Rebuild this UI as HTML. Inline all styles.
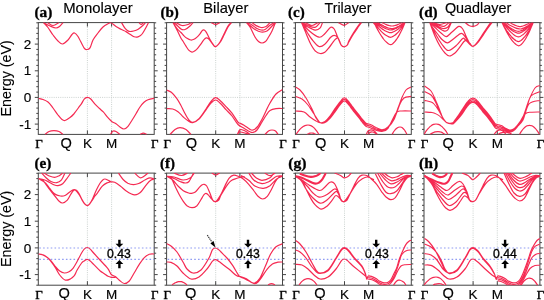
<!DOCTYPE html>
<html><head><meta charset="utf-8"><style>
html,body{margin:0;padding:0;background:#fff;}
svg{display:block;}
.t{font-family:"Liberation Sans",sans-serif;font-size:15px;fill:#000;stroke:#000;stroke-width:0.15px;}
.l{font-family:"Liberation Serif",serif;font-weight:bold;font-size:14.5px;fill:#000;stroke:#000;stroke-width:0.3px;}
.ax{font-family:"Liberation Sans",sans-serif;font-size:14.3px;fill:#000;stroke:#000;stroke-width:0.12px;}
.tk{font-family:"Liberation Sans",sans-serif;font-size:13.5px;fill:#000;stroke:#000;stroke-width:0.15px;}
.g{font-family:"Liberation Serif",serif;font-size:12.9px;fill:#000;stroke:#000;stroke-width:0.4px;}
.q{font-family:"Liberation Sans",sans-serif;font-size:14.6px;fill:#000;stroke:#000;stroke-width:0.15px;}
</style></head><body>
<svg width="544" height="300" viewBox="0 0 544 300">

<text class="t" x="63.2" y="13.1" textLength="69.6" lengthAdjust="spacingAndGlyphs">Monolayer</text>
<text class="t" x="203.3" y="13.1" textLength="45.0" lengthAdjust="spacingAndGlyphs">Bilayer</text>
<text class="t" x="324.6" y="13.1" textLength="46.8" lengthAdjust="spacingAndGlyphs">Trilayer</text>
<text class="t" x="444.9" y="13.1" textLength="66.4" lengthAdjust="spacingAndGlyphs">Quadlayer</text>
<text class="l" x="34.4" y="17.2" textLength="17.9" lengthAdjust="spacingAndGlyphs">(a)</text>
<text class="l" x="160.4" y="17.2" textLength="18.5" lengthAdjust="spacingAndGlyphs">(b)</text>
<text class="l" x="288.1" y="17.2" textLength="16.7" lengthAdjust="spacingAndGlyphs">(c)</text>
<text class="l" x="419.1" y="17.2" textLength="18.6" lengthAdjust="spacingAndGlyphs">(d)</text>
<text class="l" x="34.4" y="167.6" textLength="17.0" lengthAdjust="spacingAndGlyphs">(e)</text>
<text class="l" x="160.1" y="167.6" textLength="15.0" lengthAdjust="spacingAndGlyphs">(f)</text>
<text class="l" x="288.3" y="167.6" textLength="18.3" lengthAdjust="spacingAndGlyphs">(g)</text>
<text class="l" x="419.0" y="167.6" textLength="19.1" lengthAdjust="spacingAndGlyphs">(h)</text>
<path d="M87.4 22.6V134.4M111.6 22.6V134.4M38.3 97.4H154.2" stroke="#c5cdc9" stroke-width="0.9" stroke-dasharray="1 1.2" fill="none"/>
<path d="M36.3 129.4H38.3M154.2 129.4H156.2M34.8 124.1H38.3M154.2 124.1H157.7M36.3 118.7H38.3M154.2 118.7H156.2M36.3 113.4H38.3M154.2 113.4H156.2M36.3 108.1H38.3M154.2 108.1H156.2M36.3 102.7H38.3M154.2 102.7H156.2M34.8 97.4H38.3M154.2 97.4H157.7M36.3 92.1H38.3M154.2 92.1H156.2M36.3 86.7H38.3M154.2 86.7H156.2M36.3 81.4H38.3M154.2 81.4H156.2M36.3 76.1H38.3M154.2 76.1H156.2M34.8 70.8H38.3M154.2 70.8H157.7M36.3 65.4H38.3M154.2 65.4H156.2M36.3 60.1H38.3M154.2 60.1H156.2M36.3 54.8H38.3M154.2 54.8H156.2M36.3 49.4H38.3M154.2 49.4H156.2M34.8 44.1H38.3M154.2 44.1H157.7M36.3 38.8H38.3M154.2 38.8H156.2M36.3 33.4H38.3M154.2 33.4H156.2M36.3 28.1H38.3M154.2 28.1H156.2M36.3 22.8H38.3M154.2 22.8H156.2M87.4 22.6v4M87.4 134.4v-4M111.6 22.6v4M111.6 134.4v-4" stroke="#454545" stroke-width="1" fill="none"/>
<rect x="38.3" y="22.6" width="115.9" height="111.80000000000001" stroke="#454545" stroke-width="1" fill="none"/>
<text class="g" x="38.9" y="147.8" text-anchor="middle">Γ</text>
<text class="q" x="66.1" y="148.1" text-anchor="middle">Q</text>
<text class="tk" x="87.4" y="147.8" text-anchor="middle">K</text>
<text class="tk" x="111.6" y="147.8" text-anchor="middle">M</text>
<text class="g" x="154.7" y="147.8" text-anchor="middle">Γ</text>
<path d="M215.7 22.6V134.4M239.9 22.6V134.4M166.6 97.4H282.5" stroke="#c5cdc9" stroke-width="0.9" stroke-dasharray="1 1.2" fill="none"/>
<path d="M164.6 129.4H166.6M282.5 129.4H284.5M163.1 124.1H166.6M282.5 124.1H286.0M164.6 118.7H166.6M282.5 118.7H284.5M164.6 113.4H166.6M282.5 113.4H284.5M164.6 108.1H166.6M282.5 108.1H284.5M164.6 102.7H166.6M282.5 102.7H284.5M163.1 97.4H166.6M282.5 97.4H286.0M164.6 92.1H166.6M282.5 92.1H284.5M164.6 86.7H166.6M282.5 86.7H284.5M164.6 81.4H166.6M282.5 81.4H284.5M164.6 76.1H166.6M282.5 76.1H284.5M163.1 70.8H166.6M282.5 70.8H286.0M164.6 65.4H166.6M282.5 65.4H284.5M164.6 60.1H166.6M282.5 60.1H284.5M164.6 54.8H166.6M282.5 54.8H284.5M164.6 49.4H166.6M282.5 49.4H284.5M163.1 44.1H166.6M282.5 44.1H286.0M164.6 38.8H166.6M282.5 38.8H284.5M164.6 33.4H166.6M282.5 33.4H284.5M164.6 28.1H166.6M282.5 28.1H284.5M164.6 22.8H166.6M282.5 22.8H284.5M215.7 22.6v4M215.7 134.4v-4M239.9 22.6v4M239.9 134.4v-4" stroke="#454545" stroke-width="1" fill="none"/>
<rect x="166.6" y="22.6" width="115.9" height="111.80000000000001" stroke="#454545" stroke-width="1" fill="none"/>
<text class="g" x="167.2" y="147.8" text-anchor="middle">Γ</text>
<text class="q" x="191.4" y="148.1" text-anchor="middle">Q</text>
<text class="tk" x="215.7" y="147.8" text-anchor="middle">K</text>
<text class="tk" x="239.9" y="147.8" text-anchor="middle">M</text>
<text class="g" x="283.0" y="147.8" text-anchor="middle">Γ</text>
<path d="M344.5 22.6V134.4M368.7 22.6V134.4M295.4 97.4H411.29999999999995" stroke="#c5cdc9" stroke-width="0.9" stroke-dasharray="1 1.2" fill="none"/>
<path d="M293.4 129.4H295.4M411.29999999999995 129.4H413.3M291.9 124.1H295.4M411.29999999999995 124.1H414.8M293.4 118.7H295.4M411.29999999999995 118.7H413.3M293.4 113.4H295.4M411.29999999999995 113.4H413.3M293.4 108.1H295.4M411.29999999999995 108.1H413.3M293.4 102.7H295.4M411.29999999999995 102.7H413.3M291.9 97.4H295.4M411.29999999999995 97.4H414.8M293.4 92.1H295.4M411.29999999999995 92.1H413.3M293.4 86.7H295.4M411.29999999999995 86.7H413.3M293.4 81.4H295.4M411.29999999999995 81.4H413.3M293.4 76.1H295.4M411.29999999999995 76.1H413.3M291.9 70.8H295.4M411.29999999999995 70.8H414.8M293.4 65.4H295.4M411.29999999999995 65.4H413.3M293.4 60.1H295.4M411.29999999999995 60.1H413.3M293.4 54.8H295.4M411.29999999999995 54.8H413.3M293.4 49.4H295.4M411.29999999999995 49.4H413.3M291.9 44.1H295.4M411.29999999999995 44.1H414.8M293.4 38.8H295.4M411.29999999999995 38.8H413.3M293.4 33.4H295.4M411.29999999999995 33.4H413.3M293.4 28.1H295.4M411.29999999999995 28.1H413.3M293.4 22.8H295.4M411.29999999999995 22.8H413.3M344.5 22.6v4M344.5 134.4v-4M368.7 22.6v4M368.7 134.4v-4" stroke="#454545" stroke-width="1" fill="none"/>
<rect x="295.4" y="22.6" width="115.9" height="111.80000000000001" stroke="#454545" stroke-width="1" fill="none"/>
<text class="g" x="296.0" y="147.8" text-anchor="middle">Γ</text>
<text class="q" x="320.7" y="148.1" text-anchor="middle">Q</text>
<text class="tk" x="344.5" y="147.8" text-anchor="middle">K</text>
<text class="tk" x="368.7" y="147.8" text-anchor="middle">M</text>
<text class="g" x="411.8" y="147.8" text-anchor="middle">Γ</text>
<path d="M473.1 22.6V134.4M497.3 22.6V134.4M424.0 97.4H539.9" stroke="#c5cdc9" stroke-width="0.9" stroke-dasharray="1 1.2" fill="none"/>
<path d="M422.0 129.4H424.0M539.9 129.4H541.9M420.5 124.1H424.0M539.9 124.1H543.4M422.0 118.7H424.0M539.9 118.7H541.9M422.0 113.4H424.0M539.9 113.4H541.9M422.0 108.1H424.0M539.9 108.1H541.9M422.0 102.7H424.0M539.9 102.7H541.9M420.5 97.4H424.0M539.9 97.4H543.4M422.0 92.1H424.0M539.9 92.1H541.9M422.0 86.7H424.0M539.9 86.7H541.9M422.0 81.4H424.0M539.9 81.4H541.9M422.0 76.1H424.0M539.9 76.1H541.9M420.5 70.8H424.0M539.9 70.8H543.4M422.0 65.4H424.0M539.9 65.4H541.9M422.0 60.1H424.0M539.9 60.1H541.9M422.0 54.8H424.0M539.9 54.8H541.9M422.0 49.4H424.0M539.9 49.4H541.9M420.5 44.1H424.0M539.9 44.1H543.4M422.0 38.8H424.0M539.9 38.8H541.9M422.0 33.4H424.0M539.9 33.4H541.9M422.0 28.1H424.0M539.9 28.1H541.9M422.0 22.8H424.0M539.9 22.8H541.9M473.1 22.6v4M473.1 134.4v-4M497.3 22.6v4M497.3 134.4v-4" stroke="#454545" stroke-width="1" fill="none"/>
<rect x="424.0" y="22.6" width="115.9" height="111.80000000000001" stroke="#454545" stroke-width="1" fill="none"/>
<text class="g" x="424.6" y="147.8" text-anchor="middle">Γ</text>
<text class="q" x="448.3" y="148.1" text-anchor="middle">Q</text>
<text class="tk" x="473.1" y="147.8" text-anchor="middle">K</text>
<text class="tk" x="497.3" y="147.8" text-anchor="middle">M</text>
<text class="g" x="540.4" y="147.8" text-anchor="middle">Γ</text>
<path d="M87.4 173.1V285.2M111.6 173.1V285.2" stroke="#c5cdc9" stroke-width="0.9" stroke-dasharray="1 1.2" fill="none"/>
<path d="M36.3 285.2H38.3M154.2 285.2H156.2M36.3 279.9H38.3M154.2 279.9H156.2M34.8 274.6H38.3M154.2 274.6H157.7M36.3 269.2H38.3M154.2 269.2H156.2M36.3 263.9H38.3M154.2 263.9H156.2M36.3 258.6H38.3M154.2 258.6H156.2M36.3 253.2H38.3M154.2 253.2H156.2M34.8 247.9H38.3M154.2 247.9H157.7M36.3 242.6H38.3M154.2 242.6H156.2M36.3 237.2H38.3M154.2 237.2H156.2M36.3 231.9H38.3M154.2 231.9H156.2M36.3 226.6H38.3M154.2 226.6H156.2M34.8 221.2H38.3M154.2 221.2H157.7M36.3 215.9H38.3M154.2 215.9H156.2M36.3 210.6H38.3M154.2 210.6H156.2M36.3 205.3H38.3M154.2 205.3H156.2M36.3 199.9H38.3M154.2 199.9H156.2M34.8 194.6H38.3M154.2 194.6H157.7M36.3 189.3H38.3M154.2 189.3H156.2M36.3 183.9H38.3M154.2 183.9H156.2M36.3 178.6H38.3M154.2 178.6H156.2M36.3 173.3H38.3M154.2 173.3H156.2M87.4 173.1v4M87.4 285.2v-4M111.6 173.1v4M111.6 285.2v-4" stroke="#454545" stroke-width="1" fill="none"/>
<rect x="38.3" y="173.1" width="115.9" height="112.1" stroke="#454545" stroke-width="1" fill="none"/>
<text class="g" x="38.9" y="299.3" text-anchor="middle">Γ</text>
<text class="q" x="64.3" y="298.3" text-anchor="middle">Q</text>
<text class="tk" x="87.4" y="299.3" text-anchor="middle">K</text>
<text class="tk" x="111.6" y="299.3" text-anchor="middle">M</text>
<text class="g" x="154.7" y="299.3" text-anchor="middle">Γ</text>
<path d="M215.7 173.1V285.2M239.9 173.1V285.2" stroke="#c5cdc9" stroke-width="0.9" stroke-dasharray="1 1.2" fill="none"/>
<path d="M164.6 285.2H166.6M282.5 285.2H284.5M164.6 279.9H166.6M282.5 279.9H284.5M163.1 274.6H166.6M282.5 274.6H286.0M164.6 269.2H166.6M282.5 269.2H284.5M164.6 263.9H166.6M282.5 263.9H284.5M164.6 258.6H166.6M282.5 258.6H284.5M164.6 253.2H166.6M282.5 253.2H284.5M163.1 247.9H166.6M282.5 247.9H286.0M164.6 242.6H166.6M282.5 242.6H284.5M164.6 237.2H166.6M282.5 237.2H284.5M164.6 231.9H166.6M282.5 231.9H284.5M164.6 226.6H166.6M282.5 226.6H284.5M163.1 221.2H166.6M282.5 221.2H286.0M164.6 215.9H166.6M282.5 215.9H284.5M164.6 210.6H166.6M282.5 210.6H284.5M164.6 205.3H166.6M282.5 205.3H284.5M164.6 199.9H166.6M282.5 199.9H284.5M163.1 194.6H166.6M282.5 194.6H286.0M164.6 189.3H166.6M282.5 189.3H284.5M164.6 183.9H166.6M282.5 183.9H284.5M164.6 178.6H166.6M282.5 178.6H284.5M164.6 173.3H166.6M282.5 173.3H284.5M215.7 173.1v4M215.7 285.2v-4M239.9 173.1v4M239.9 285.2v-4" stroke="#454545" stroke-width="1" fill="none"/>
<rect x="166.6" y="173.1" width="115.9" height="112.1" stroke="#454545" stroke-width="1" fill="none"/>
<text class="g" x="167.2" y="299.3" text-anchor="middle">Γ</text>
<text class="q" x="190.8" y="298.3" text-anchor="middle">Q</text>
<text class="tk" x="215.7" y="299.3" text-anchor="middle">K</text>
<text class="tk" x="239.9" y="299.3" text-anchor="middle">M</text>
<text class="g" x="283.0" y="299.3" text-anchor="middle">Γ</text>
<path d="M344.5 173.1V285.2M368.7 173.1V285.2" stroke="#c5cdc9" stroke-width="0.9" stroke-dasharray="1 1.2" fill="none"/>
<path d="M293.4 285.2H295.4M411.29999999999995 285.2H413.3M293.4 279.9H295.4M411.29999999999995 279.9H413.3M291.9 274.6H295.4M411.29999999999995 274.6H414.8M293.4 269.2H295.4M411.29999999999995 269.2H413.3M293.4 263.9H295.4M411.29999999999995 263.9H413.3M293.4 258.6H295.4M411.29999999999995 258.6H413.3M293.4 253.2H295.4M411.29999999999995 253.2H413.3M291.9 247.9H295.4M411.29999999999995 247.9H414.8M293.4 242.6H295.4M411.29999999999995 242.6H413.3M293.4 237.2H295.4M411.29999999999995 237.2H413.3M293.4 231.9H295.4M411.29999999999995 231.9H413.3M293.4 226.6H295.4M411.29999999999995 226.6H413.3M291.9 221.2H295.4M411.29999999999995 221.2H414.8M293.4 215.9H295.4M411.29999999999995 215.9H413.3M293.4 210.6H295.4M411.29999999999995 210.6H413.3M293.4 205.3H295.4M411.29999999999995 205.3H413.3M293.4 199.9H295.4M411.29999999999995 199.9H413.3M291.9 194.6H295.4M411.29999999999995 194.6H414.8M293.4 189.3H295.4M411.29999999999995 189.3H413.3M293.4 183.9H295.4M411.29999999999995 183.9H413.3M293.4 178.6H295.4M411.29999999999995 178.6H413.3M293.4 173.3H295.4M411.29999999999995 173.3H413.3M344.5 173.1v4M344.5 285.2v-4M368.7 173.1v4M368.7 285.2v-4" stroke="#454545" stroke-width="1" fill="none"/>
<rect x="295.4" y="173.1" width="115.9" height="112.1" stroke="#454545" stroke-width="1" fill="none"/>
<text class="g" x="296.0" y="299.3" text-anchor="middle">Γ</text>
<text class="q" x="320" y="298.3" text-anchor="middle">Q</text>
<text class="tk" x="344.5" y="299.3" text-anchor="middle">K</text>
<text class="tk" x="368.7" y="299.3" text-anchor="middle">M</text>
<text class="g" x="411.8" y="299.3" text-anchor="middle">Γ</text>
<path d="M473.1 173.1V285.2M497.3 173.1V285.2" stroke="#c5cdc9" stroke-width="0.9" stroke-dasharray="1 1.2" fill="none"/>
<path d="M422.0 285.2H424.0M539.9 285.2H541.9M422.0 279.9H424.0M539.9 279.9H541.9M420.5 274.6H424.0M539.9 274.6H543.4M422.0 269.2H424.0M539.9 269.2H541.9M422.0 263.9H424.0M539.9 263.9H541.9M422.0 258.6H424.0M539.9 258.6H541.9M422.0 253.2H424.0M539.9 253.2H541.9M420.5 247.9H424.0M539.9 247.9H543.4M422.0 242.6H424.0M539.9 242.6H541.9M422.0 237.2H424.0M539.9 237.2H541.9M422.0 231.9H424.0M539.9 231.9H541.9M422.0 226.6H424.0M539.9 226.6H541.9M420.5 221.2H424.0M539.9 221.2H543.4M422.0 215.9H424.0M539.9 215.9H541.9M422.0 210.6H424.0M539.9 210.6H541.9M422.0 205.3H424.0M539.9 205.3H541.9M422.0 199.9H424.0M539.9 199.9H541.9M420.5 194.6H424.0M539.9 194.6H543.4M422.0 189.3H424.0M539.9 189.3H541.9M422.0 183.9H424.0M539.9 183.9H541.9M422.0 178.6H424.0M539.9 178.6H541.9M422.0 173.3H424.0M539.9 173.3H541.9M473.1 173.1v4M473.1 285.2v-4M497.3 173.1v4M497.3 285.2v-4" stroke="#454545" stroke-width="1" fill="none"/>
<rect x="424.0" y="173.1" width="115.9" height="112.1" stroke="#454545" stroke-width="1" fill="none"/>
<text class="g" x="424.6" y="299.3" text-anchor="middle">Γ</text>
<text class="q" x="448.3" y="298.3" text-anchor="middle">Q</text>
<text class="tk" x="473.1" y="299.3" text-anchor="middle">K</text>
<text class="tk" x="497.3" y="299.3" text-anchor="middle">M</text>
<text class="g" x="540.4" y="299.3" text-anchor="middle">Γ</text>
<text class="tk" x="31.2" y="48.7" text-anchor="end">2</text>
<text class="tk" x="31.2" y="75.3" text-anchor="end">1</text>
<text class="tk" x="31.2" y="102.0" text-anchor="end">0</text>
<text class="tk" x="31.2" y="128.7" text-anchor="end">-1</text>
<text class="ax" transform="translate(11 78.3) rotate(-90)" text-anchor="middle">Energy (eV)</text>
<text class="tk" x="31.2" y="199.2" text-anchor="end">2</text>
<text class="tk" x="31.2" y="225.8" text-anchor="end">1</text>
<text class="tk" x="31.2" y="252.5" text-anchor="end">0</text>
<text class="tk" x="31.2" y="279.2" text-anchor="end">-1</text>
<text class="ax" transform="translate(11 228.8) rotate(-90)" text-anchor="middle">Energy (eV)</text>
<defs>
<clipPath id="ca"><rect x="38.3" y="22.6" width="115.9" height="111.80000000000001"/></clipPath>
<clipPath id="cb"><rect x="166.6" y="22.6" width="115.9" height="111.80000000000001"/></clipPath>
<clipPath id="cc"><rect x="295.4" y="22.6" width="115.9" height="111.80000000000001"/></clipPath>
<clipPath id="cd"><rect x="424.0" y="22.6" width="115.9" height="111.80000000000001"/></clipPath>
<clipPath id="ce"><rect x="38.3" y="173.1" width="115.9" height="112.1"/></clipPath>
<clipPath id="cf"><rect x="166.6" y="173.1" width="115.9" height="112.1"/></clipPath>
<clipPath id="cg"><rect x="295.4" y="173.1" width="115.9" height="112.1"/></clipPath>
<clipPath id="ch"><rect x="424.0" y="173.1" width="115.9" height="112.1"/></clipPath>
</defs>
<path d="M39.3 248H154.2M39.3 259.4H154.2" stroke="#909cf2" stroke-width="1.2" stroke-dasharray="1.6 2.2" fill="none"/>
<path d="M167.6 248H282.5M167.6 259.4H282.5" stroke="#909cf2" stroke-width="1.2" stroke-dasharray="1.6 2.2" fill="none"/>
<path d="M296.4 248H411.3M296.4 259.4H411.3" stroke="#909cf2" stroke-width="1.2" stroke-dasharray="1.6 2.2" fill="none"/>
<path d="M425.0 248H539.9M425.0 259.4H539.9" stroke="#909cf2" stroke-width="1.2" stroke-dasharray="1.6 2.2" fill="none"/>
<path clip-path="url(#ca)" d="M43.5 22.5C44.2 23.3 46.4 25.4 48.0 27.5C49.6 29.6 51.3 32.8 53.0 35.0C54.7 37.2 56.4 39.5 58.0 41.0C59.6 42.5 60.8 44.2 62.5 44.0C64.2 43.8 66.4 41.6 68.0 40.0C69.6 38.4 70.9 35.7 72.0 34.5C73.1 33.3 73.5 32.7 74.5 33.0C75.5 33.3 76.4 34.0 78.0 36.5C79.6 39.0 82.5 45.7 84.0 47.9C85.5 50.1 86.0 49.5 87.0 49.5C88.0 49.5 89.0 49.5 90.0 47.9C91.0 46.3 91.7 42.5 93.0 40.0C94.3 37.5 96.3 35.2 98.0 33.0C99.7 30.8 101.3 28.5 103.0 27.0C104.7 25.5 106.7 24.5 108.0 23.8C109.3 23.1 109.7 22.4 111.0 22.8C112.3 23.2 114.3 25.4 116.0 26.5C117.7 27.6 119.3 28.4 121.0 29.3C122.7 30.2 124.5 30.8 126.0 31.6C127.5 32.4 128.8 33.5 130.0 34.3C131.2 35.1 132.1 35.8 133.0 36.3C133.9 36.8 134.6 36.9 135.4 37.0C136.2 37.1 137.2 37.0 138.0 36.8C138.8 36.6 139.7 36.2 140.5 35.6C141.3 35.0 141.9 34.4 142.8 33.0C143.7 31.6 145.1 29.2 146.0 27.5C146.9 25.8 148.1 23.3 148.5 22.5M43.5 22.5C44.6 23.1 47.9 25.1 50.0 26.0C52.1 26.9 54.3 28.0 56.0 28.0C57.7 28.0 58.8 26.9 60.0 26.0C61.2 25.1 62.5 23.1 63.0 22.5M47.5 22.5C48.4 23.0 51.1 25.5 53.0 25.5C54.9 25.5 58.0 23.0 59.0 22.5M121.5 22.5C122.1 23.5 124.0 27.2 125.3 28.7C126.5 30.2 127.6 30.9 129.0 31.3C130.4 31.7 132.1 31.4 133.6 31.0C135.1 30.6 136.7 30.1 138.2 29.2C139.7 28.3 141.6 26.6 142.8 25.5C144.0 24.4 145.1 23.0 145.5 22.5M139.0 22.5C139.3 22.8 140.2 24.5 141.0 24.5C141.8 24.5 143.1 22.8 143.5 22.5M38.5 98.5C39.2 98.7 41.4 98.9 43.0 99.5C44.6 100.1 46.3 100.6 48.0 102.0C49.7 103.4 51.3 105.8 53.0 108.0C54.7 110.2 56.5 113.1 58.0 115.0C59.5 116.9 60.8 118.6 62.0 119.5C63.2 120.4 63.7 120.8 65.0 120.5C66.3 120.2 68.5 118.6 70.0 117.5C71.5 116.4 72.4 115.6 73.8 114.0C75.1 112.4 77.0 109.8 78.3 108.0C79.6 106.2 80.7 104.8 81.7 103.3C82.7 101.8 83.3 100.2 84.2 99.2C85.1 98.2 86.2 97.5 87.3 97.4C88.3 97.3 89.2 97.7 90.5 98.8C91.8 99.9 93.5 102.6 95.0 104.2C96.5 105.8 97.8 107.0 99.2 108.3C100.6 109.6 101.8 110.3 103.3 111.9C104.8 113.5 106.5 116.1 108.0 117.7C109.5 119.3 110.7 120.7 112.0 121.7C113.3 122.7 114.7 122.8 116.0 123.7C117.3 124.6 118.7 126.1 120.0 127.0C121.3 127.9 122.7 129.1 124.0 129.0C125.3 128.9 126.7 127.8 128.0 126.3C129.3 124.8 130.7 122.4 132.0 120.3C133.3 118.2 134.7 115.9 136.0 113.7C137.3 111.5 138.7 108.9 140.0 107.0C141.3 105.1 142.7 103.5 144.0 102.3C145.3 101.1 146.2 100.4 148.0 99.7C149.8 99.0 153.4 98.5 154.5 98.3M45.0 134.5C45.7 134.0 47.5 132.2 49.0 131.5C50.5 130.8 52.3 130.6 54.0 130.6C55.7 130.6 57.5 130.8 59.0 131.5C60.5 132.2 62.3 134.0 63.0 134.5M110.5 134.5C110.9 133.9 111.8 131.7 112.7 131.2C113.6 130.7 114.8 130.9 116.0 131.5C117.2 132.1 119.3 134.0 120.0 134.5M140.0 134.5C140.6 134.3 142.2 133.2 143.3 133.2C144.4 133.2 146.1 134.3 146.7 134.5" stroke="#f52a52" stroke-width="1.2" fill="none" stroke-linejoin="round"/>
<path clip-path="url(#cb)" d="M173.0 22.5C173.7 23.8 175.7 27.4 177.0 30.0C178.3 32.6 180.0 36.4 181.0 38.3C182.0 40.2 182.2 40.0 183.0 41.3C183.8 42.6 185.0 44.7 186.0 46.2C187.0 47.7 188.0 49.4 189.0 50.4C190.0 51.4 191.0 52.0 192.0 52.1C193.0 52.2 194.0 51.5 195.0 50.8C196.0 50.1 197.0 49.1 198.0 47.9C199.0 46.7 200.0 45.2 201.0 43.8C202.0 42.4 203.1 40.6 204.0 39.6C204.9 38.6 205.6 38.0 206.3 37.9C207.1 37.8 207.8 38.2 208.5 38.8C209.2 39.3 209.8 40.2 210.5 41.2C211.2 42.2 212.2 43.6 213.0 44.5C213.8 45.4 214.4 47.0 215.6 46.6C216.8 46.2 218.6 44.1 220.0 42.0C221.4 39.9 222.7 36.7 224.0 34.0C225.3 31.3 226.8 27.9 228.0 26.0C229.2 24.1 230.5 23.1 231.0 22.5M173.0 22.5C173.7 23.5 175.7 26.8 177.0 28.5C178.3 30.2 179.8 31.3 181.0 32.5C182.2 33.7 183.0 34.8 184.0 35.8C185.0 36.8 185.9 37.6 187.0 38.3C188.1 39.0 189.6 39.8 190.8 40.0C192.0 40.2 193.0 39.8 194.0 39.3C195.0 38.8 196.0 38.0 197.0 37.1C198.0 36.2 199.1 34.9 200.0 33.8C200.9 32.7 201.6 31.3 202.2 30.6C202.8 29.9 203.2 29.7 203.8 29.8C204.4 29.9 204.9 30.4 205.5 31.2C206.1 32.0 206.8 33.1 207.5 34.5C208.2 35.9 209.1 37.9 210.0 39.5C210.9 41.1 212.1 43.0 213.0 44.2C213.9 45.4 214.4 46.9 215.6 46.6C216.8 46.3 218.6 44.4 220.0 42.5C221.4 40.6 222.7 37.6 224.0 35.0C225.3 32.4 226.8 29.1 228.0 27.0C229.2 24.9 230.9 23.2 231.5 22.5M174.0 22.5C175.2 23.6 179.2 27.8 181.0 29.0C182.8 30.2 183.5 30.0 185.0 29.5C186.5 29.0 188.7 27.2 190.0 26.0C191.3 24.8 192.5 23.1 193.0 22.5M176.0 22.5C177.0 23.0 180.0 25.2 182.0 25.5C184.0 25.8 186.5 25.0 188.0 24.5C189.5 24.0 190.5 22.8 191.0 22.5M211.0 22.5C211.8 22.8 214.1 24.5 215.6 24.5C217.1 24.5 219.3 22.8 220.0 22.5M246.5 22.5C247.1 23.2 248.6 24.6 250.0 27.0C251.4 29.4 253.6 34.6 255.0 37.0C256.4 39.4 257.3 40.5 258.5 41.5C259.7 42.5 260.8 43.0 262.0 43.0C263.2 43.0 264.5 42.3 265.5 41.5C266.5 40.7 266.9 39.8 268.0 38.0C269.1 36.2 270.8 33.6 272.0 31.0C273.2 28.4 274.9 23.9 275.5 22.5M246.5 22.5C247.1 23.0 248.6 24.3 250.0 25.5C251.4 26.7 253.2 28.4 255.0 29.5C256.8 30.6 259.0 31.8 261.0 32.0C263.0 32.2 265.0 32.2 267.0 31.0C269.0 29.8 271.5 26.4 273.0 25.0C274.5 23.6 275.5 22.9 276.0 22.5M248.0 22.5C248.7 22.9 250.5 24.0 252.0 25.0C253.5 26.0 255.5 27.7 257.0 28.5C258.5 29.3 259.7 29.8 261.0 30.0C262.3 30.2 263.7 30.2 265.0 29.5C266.3 28.8 267.5 27.2 269.0 26.0C270.5 24.8 273.2 23.1 274.0 22.5M252.0 22.5C252.7 23.0 254.5 24.7 256.0 25.5C257.5 26.3 259.3 27.3 261.0 27.5C262.7 27.7 264.5 27.3 266.0 26.5C267.5 25.7 269.3 23.2 270.0 22.5M166.5 90.0C167.3 90.4 169.6 90.9 171.3 92.3C173.0 93.7 175.1 96.2 176.7 98.3C178.3 100.4 179.4 102.5 180.7 105.0C182.0 107.5 183.4 110.5 184.7 113.0C186.0 115.5 187.4 118.2 188.7 119.7C190.0 121.2 190.9 122.5 192.7 122.3C194.5 122.1 197.1 120.5 199.3 118.3C201.5 116.1 204.1 111.8 206.0 109.0C207.9 106.2 209.4 103.4 211.0 101.5C212.6 99.6 214.1 97.8 215.6 97.6C217.1 97.4 218.3 99.0 220.0 100.5C221.7 102.0 224.0 104.5 226.0 106.6C228.0 108.7 230.0 110.6 232.0 113.2C234.0 115.8 236.6 120.5 238.0 122.2C239.4 123.9 239.4 122.9 240.4 123.4C241.4 123.9 242.4 124.2 244.0 125.2C245.6 126.2 248.5 128.6 250.0 129.4C251.5 130.2 251.8 130.4 253.0 130.0C254.2 129.6 255.7 128.8 257.2 127.0C258.7 125.2 260.5 121.9 262.0 119.2C263.5 116.5 264.7 113.7 266.0 111.0C267.3 108.3 268.3 105.8 270.0 103.0C271.7 100.2 273.9 96.2 276.0 94.0C278.1 91.8 281.4 90.3 282.5 89.6M166.5 108.7C167.5 108.8 170.8 108.5 172.7 109.0C174.6 109.5 176.2 110.4 178.0 111.7C179.8 113.0 181.6 115.5 183.3 117.0C185.0 118.5 186.4 119.9 188.0 120.8C189.6 121.7 190.8 122.9 192.7 122.6C194.6 122.3 197.1 120.9 199.3 118.8C201.5 116.7 204.1 112.4 206.0 109.8C207.9 107.2 209.4 104.6 211.0 103.0C212.6 101.4 214.1 100.0 215.6 100.0C217.1 100.0 218.3 101.4 220.0 103.0C221.7 104.6 224.0 107.4 226.0 109.6C228.0 111.8 230.0 113.5 232.0 116.0C234.0 118.5 236.0 122.5 238.0 124.5C240.0 126.5 242.0 127.1 244.0 128.3C246.0 129.5 248.5 131.1 250.0 131.8C251.5 132.5 251.8 132.7 253.0 132.4C254.2 132.1 255.5 131.7 257.0 130.0C258.5 128.3 260.5 124.4 262.0 122.0C263.5 119.6 264.7 117.4 266.0 115.5C267.3 113.6 268.3 111.7 270.0 110.5C271.7 109.3 273.9 108.9 276.0 108.6C278.1 108.3 281.4 108.5 282.5 108.5M170.0 134.5C170.8 133.7 173.3 130.7 175.0 129.5C176.7 128.3 178.2 127.6 180.0 127.6C181.8 127.6 184.2 128.3 186.0 129.5C187.8 130.7 190.2 133.7 191.0 134.5M237.4 134.5C237.8 133.7 238.9 130.6 239.8 129.8C240.7 129.1 241.5 129.6 242.8 130.0C244.1 130.4 246.4 131.7 247.6 132.4C248.8 133.2 249.6 134.2 250.0 134.5M237.4 134.5C237.8 134.1 238.6 132.2 240.0 132.0C241.4 131.8 244.5 132.9 246.0 133.3C247.5 133.7 248.5 134.3 249.0 134.5M265.0 134.5C265.6 133.9 267.3 131.8 268.5 131.0C269.7 130.2 270.8 130.0 272.0 130.0C273.2 130.0 274.5 130.2 275.5 131.0C276.5 131.8 277.6 133.9 278.0 134.5" stroke="#f52a52" stroke-width="1.2" fill="none" stroke-linejoin="round"/>
<path clip-path="url(#cc)" d="M301.5 22.5C302.3 24.4 304.6 30.1 306.2 33.7C307.8 37.3 309.2 41.3 310.8 44.2C312.4 47.1 313.9 49.7 315.5 51.2C317.1 52.8 318.6 53.3 320.2 53.5C321.8 53.7 323.2 53.4 324.8 52.3C326.4 51.2 327.9 48.9 329.5 47.0C331.1 45.1 332.8 42.2 334.2 40.7C335.6 39.2 336.8 37.2 338.0 38.0C339.2 38.8 340.2 43.7 341.2 45.2C342.2 46.7 343.2 46.8 344.2 46.8C345.2 46.8 346.4 46.2 347.2 45.2C348.0 44.2 347.8 43.1 348.8 41.0C349.9 38.9 351.9 35.3 353.5 32.8C355.1 30.3 357.0 27.5 358.2 25.8C359.4 24.1 360.1 23.1 360.5 22.5M301.5 22.5C302.5 24.2 305.6 29.7 307.3 32.5C309.1 35.3 310.1 37.2 312.0 39.5C313.9 41.8 316.9 45.7 319.0 46.5C321.1 47.3 322.9 45.8 324.8 44.2C326.8 42.7 329.1 38.7 330.7 37.2C332.3 35.7 333.0 35.3 334.2 35.4C335.4 35.5 336.8 36.2 338.0 37.8C339.2 39.4 340.2 43.7 341.2 45.2C342.2 46.7 343.2 46.8 344.2 46.8C345.2 46.8 346.4 46.1 347.2 45.2C348.0 44.3 347.8 43.5 348.8 41.5C349.9 39.5 351.9 36.0 353.5 33.5C355.1 31.0 356.9 28.1 358.2 26.3C359.4 24.5 360.5 23.1 361.0 22.5M301.5 22.5C302.9 24.0 306.8 28.9 309.7 31.3C312.6 33.8 316.5 36.8 319.0 37.2C321.5 37.6 322.9 35.4 324.8 33.7C326.8 32.1 329.1 28.1 330.7 27.3C332.3 26.5 333.0 27.4 334.2 29.0C335.4 30.6 336.5 34.5 337.7 37.2C338.9 39.9 340.1 43.6 341.2 45.2C342.3 46.8 343.2 46.8 344.2 46.8C345.2 46.8 346.4 46.0 347.2 45.2C348.0 44.4 347.8 43.9 348.8 42.0C349.9 40.1 351.9 36.5 353.5 34.0C355.1 31.5 356.9 28.9 358.2 27.0C359.5 25.1 360.9 23.2 361.5 22.5M301.5 22.5C302.2 23.1 304.4 25.0 306.0 26.0C307.6 27.0 309.2 27.7 310.8 28.4C312.4 29.1 313.9 30.3 315.5 30.2C317.1 30.1 319.0 29.1 320.2 27.8C321.4 26.5 322.1 23.4 322.5 22.5M302.0 22.5C303.0 23.0 305.8 24.7 308.0 25.5C310.2 26.3 313.0 27.8 315.0 27.3C317.0 26.8 319.2 23.3 320.0 22.5M305.0 22.5C306.2 23.0 309.8 25.5 312.0 25.5C314.2 25.5 317.0 23.0 318.0 22.5M338.3 22.5C339.2 23.0 342.2 25.3 344.0 25.3C345.8 25.3 348.0 23.0 348.8 22.5M374.0 22.5C374.4 23.3 375.6 25.8 376.4 27.4C377.2 28.9 378.0 30.4 378.8 31.7C379.6 33.1 380.4 34.4 381.2 35.6C382.0 36.8 382.7 38.0 383.5 39.0C384.3 40.0 385.1 40.9 385.9 41.7C386.7 42.5 387.5 43.2 388.3 43.7C389.1 44.2 390.0 44.7 390.7 44.7C391.4 44.7 392.1 44.2 392.7 43.7C393.4 43.2 394.1 42.5 394.8 41.7C395.5 40.9 396.1 40.0 396.8 39.0C397.5 38.0 398.2 36.8 398.9 35.6C399.6 34.4 400.2 33.1 400.9 31.7C401.6 30.4 402.3 28.9 403.0 27.4C403.6 25.8 404.7 23.3 405.0 22.5M374.0 22.5C374.4 23.0 375.6 24.7 376.4 25.7C377.2 26.8 378.0 27.7 378.8 28.7C379.6 29.6 380.4 30.5 381.2 31.3C382.0 32.1 382.7 32.8 383.5 33.5C384.3 34.2 385.1 34.8 385.9 35.3C386.7 35.8 387.5 36.3 388.3 36.6C389.1 37.0 390.0 37.3 390.7 37.3C391.4 37.3 392.1 37.0 392.7 36.6C393.4 36.3 394.1 35.8 394.8 35.3C395.5 34.8 396.1 34.2 396.8 33.5C397.5 32.8 398.2 32.1 398.9 31.3C399.6 30.5 400.2 29.6 400.9 28.7C401.6 27.7 402.3 26.8 403.0 25.7C403.6 24.7 404.7 23.0 405.0 22.5M375.0 22.5C375.4 22.9 376.5 24.0 377.2 24.7C378.0 25.4 378.7 26.1 379.4 26.7C380.2 27.4 380.9 28.0 381.6 28.5C382.4 29.1 383.1 29.6 383.9 30.1C384.6 30.5 385.3 31.0 386.1 31.3C386.8 31.7 387.5 32.0 388.3 32.2C389.0 32.5 389.8 32.7 390.5 32.7C391.2 32.7 391.9 32.5 392.6 32.2C393.3 32.0 394.0 31.7 394.6 31.3C395.3 31.0 396.0 30.5 396.7 30.1C397.4 29.6 398.1 29.1 398.8 28.5C399.5 28.0 400.2 27.4 400.9 26.7C401.5 26.1 402.2 25.4 402.9 24.7C403.6 24.0 404.7 22.9 405.0 22.5M376.0 22.5C376.4 22.8 377.4 23.6 378.1 24.1C378.9 24.7 379.6 25.2 380.3 25.6C381.0 26.1 381.7 26.5 382.4 26.9C383.1 27.3 383.9 27.7 384.6 28.1C385.3 28.4 386.0 28.7 386.7 29.0C387.4 29.3 388.1 29.5 388.9 29.7C389.6 29.8 390.3 30.0 391.0 30.0C391.7 30.0 392.2 29.8 392.9 29.7C393.5 29.5 394.1 29.3 394.7 29.0C395.3 28.7 396.0 28.4 396.6 28.1C397.2 27.7 397.8 27.3 398.4 26.9C399.0 26.5 399.7 26.1 400.3 25.6C400.9 25.2 401.5 24.7 402.1 24.1C402.8 23.6 403.7 22.8 404.0 22.5M378.0 22.5C378.3 22.7 379.3 23.4 380.0 23.9C380.7 24.3 381.3 24.7 382.0 25.1C382.7 25.5 383.3 25.8 384.0 26.2C384.7 26.5 385.3 26.8 386.0 27.1C386.7 27.4 387.3 27.6 388.0 27.9C388.7 28.1 389.3 28.3 390.0 28.4C390.7 28.6 391.4 28.7 392.0 28.7C392.6 28.7 393.1 28.6 393.7 28.4C394.3 28.3 394.9 28.1 395.4 27.9C396.0 27.6 396.6 27.4 397.1 27.1C397.7 26.8 398.3 26.5 398.9 26.2C399.4 25.8 400.0 25.5 400.6 25.1C401.1 24.7 401.7 24.3 402.3 23.9C402.9 23.4 403.7 22.7 404.0 22.5M382.0 22.5C382.2 22.6 383.0 23.0 383.4 23.3C383.9 23.5 384.4 23.7 384.9 24.0C385.3 24.2 385.8 24.4 386.3 24.6C386.8 24.8 387.2 24.9 387.7 25.1C388.2 25.3 388.7 25.4 389.1 25.5C389.6 25.7 390.1 25.8 390.6 25.8C391.0 25.9 391.5 26.0 392.0 26.0C392.5 26.0 393.0 25.9 393.4 25.8C393.9 25.8 394.4 25.7 394.9 25.5C395.3 25.4 395.8 25.3 396.3 25.1C396.8 24.9 397.2 24.8 397.7 24.6C398.2 24.4 398.7 24.2 399.1 24.0C399.6 23.7 400.1 23.5 400.6 23.3C401.0 23.0 401.8 22.6 402.0 22.5M373.3 22.5C373.8 23.0 375.2 25.3 376.0 25.3C376.8 25.3 377.7 23.0 378.0 22.5M296.0 134.5C296.4 133.9 297.6 132.1 298.4 131.1C299.2 130.1 300.0 129.2 300.8 128.4C301.6 127.7 302.4 127.0 303.2 126.5C304.0 126.0 304.8 125.6 305.6 125.4C306.4 125.1 307.2 125.0 308.0 125.0C308.8 125.0 309.5 125.1 310.2 125.4C310.9 125.6 311.7 126.0 312.4 126.5C313.1 127.0 313.9 127.7 314.6 128.4C315.3 129.2 316.1 130.1 316.8 131.1C317.5 132.1 318.6 133.9 319.0 134.5M307.0 134.5C307.2 134.4 308.0 133.9 308.5 133.7C309.0 133.4 309.5 133.3 310.0 133.2C310.5 133.1 311.0 133.0 311.5 133.0C312.0 133.0 312.5 133.1 313.0 133.2C313.5 133.3 314.0 133.4 314.5 133.7C315.0 133.9 315.8 134.4 316.0 134.5M392.0 134.5C392.3 134.1 393.1 132.6 393.6 131.8C394.1 131.0 394.7 130.3 395.2 129.7C395.7 129.1 396.3 128.6 396.8 128.2C397.3 127.8 397.9 127.5 398.4 127.3C398.9 127.1 399.5 127.0 400.0 127.0C400.5 127.0 400.9 127.1 401.4 127.3C401.9 127.5 402.3 127.8 402.8 128.2C403.3 128.6 403.7 129.1 404.2 129.7C404.7 130.3 405.1 131.0 405.6 131.8C406.1 132.6 406.8 134.1 407.0 134.5M366.3 134.5C366.5 134.1 367.1 132.5 367.5 131.8C367.9 131.1 368.4 130.7 369.0 130.4C369.6 130.1 370.2 129.9 371.0 129.9C371.8 129.9 372.8 130.2 373.5 130.6C374.2 131.0 374.9 131.5 375.5 132.2C376.1 132.8 377.0 134.1 377.3 134.5M368.0 134.5C368.3 134.2 369.2 132.8 370.0 132.4C370.8 132.0 371.7 131.9 372.5 132.0C373.3 132.1 374.3 132.6 375.0 133.0C375.7 133.4 376.2 134.2 376.5 134.5" stroke="#f52a52" stroke-width="1.2" fill="none" stroke-linejoin="round"/>
<path clip-path="url(#cc)" d="M295.5 87.0C296.2 87.5 298.2 88.2 300.0 90.0C301.8 91.8 304.0 94.8 306.0 98.0C308.0 101.2 310.3 105.7 312.0 109.0C313.7 112.3 314.7 115.8 316.0 118.0C317.3 120.2 318.5 121.8 320.0 122.4C321.5 123.0 323.3 122.6 325.0 121.5C326.7 120.4 328.5 117.9 330.0 116.0C331.5 114.1 332.9 111.6 334.0 110.0C335.1 108.4 335.9 107.4 336.8 106.2C337.7 105.0 338.4 103.8 339.2 102.8C340.0 101.8 340.9 100.7 341.5 100.0C342.1 99.3 342.5 98.8 343.0 98.4C343.5 98.0 343.9 97.8 344.4 97.8C344.9 97.8 345.3 98.0 345.8 98.4C346.3 98.8 346.7 99.3 347.3 100.0C347.9 100.7 348.9 101.8 349.7 102.8C350.5 103.8 351.2 105.0 352.0 106.0C352.8 107.0 353.1 107.5 354.3 109.0C355.5 110.5 357.7 113.2 359.0 114.8C360.3 116.4 360.8 117.4 362.0 118.8C363.2 120.2 364.9 122.3 366.0 123.2C367.1 124.1 367.7 123.7 368.7 124.0C369.7 124.3 370.8 124.7 372.0 125.3C373.2 125.9 374.3 126.8 376.0 127.6C377.7 128.3 380.0 129.9 382.0 129.8C384.0 129.7 386.0 129.0 388.0 127.0C390.0 125.0 392.3 121.2 394.0 118.0C395.7 114.8 396.7 111.4 398.0 108.0C399.3 104.6 400.7 100.5 402.0 97.5C403.3 94.5 404.5 91.8 406.0 90.0C407.5 88.2 410.2 87.5 411.0 87.0M295.5 96.4C296.6 96.8 299.9 97.6 302.0 99.0C304.1 100.4 306.0 102.5 308.0 105.0C310.0 107.5 312.0 111.1 314.0 114.0C316.0 116.9 318.2 121.3 320.0 122.6C321.8 123.9 323.3 123.0 325.0 122.1C326.7 121.2 328.5 118.9 330.0 117.1C331.5 115.4 332.9 113.2 334.0 111.6C335.1 110.0 335.9 109.0 336.8 107.8C337.7 106.6 338.4 105.4 339.2 104.4C340.0 103.4 340.9 102.3 341.5 101.6C342.1 100.9 342.5 100.4 343.0 100.0C343.5 99.6 343.9 99.4 344.4 99.4C344.9 99.4 345.3 99.6 345.8 100.0C346.3 100.4 346.7 100.9 347.3 101.6C347.9 102.3 348.9 103.4 349.7 104.4C350.5 105.4 351.2 106.6 352.0 107.6C352.8 108.6 353.1 109.1 354.3 110.6C355.5 112.1 357.7 114.8 359.0 116.4C360.3 118.0 360.8 119.0 362.0 120.4C363.2 121.8 364.9 123.9 366.0 124.8C367.1 125.7 367.7 125.2 368.7 125.6C369.7 125.9 370.8 126.4 372.0 126.9C373.2 127.4 374.3 128.3 376.0 128.9C377.7 129.5 380.0 130.8 382.0 130.6C384.0 130.4 386.0 129.5 388.0 127.6C390.0 125.8 392.0 123.4 394.0 119.5C396.0 115.6 398.3 107.6 400.0 104.0C401.7 100.4 402.2 99.3 404.0 98.0C405.8 96.7 409.8 96.7 411.0 96.4M295.5 111.0C296.9 111.2 301.6 111.0 304.0 112.0C306.4 113.0 308.0 115.5 310.0 117.0C312.0 118.5 314.3 120.0 316.0 121.0C317.7 122.0 318.5 122.5 320.0 122.8C321.5 123.1 323.3 123.4 325.0 122.6C326.7 121.9 328.5 119.9 330.0 118.3C331.5 116.7 332.9 114.7 334.0 113.2C335.1 111.7 335.9 110.6 336.8 109.4C337.7 108.2 338.4 107.0 339.2 106.0C340.0 105.0 340.9 103.9 341.5 103.2C342.1 102.5 342.5 102.0 343.0 101.6C343.5 101.2 343.9 101.0 344.4 101.0C344.9 101.0 345.3 101.2 345.8 101.6C346.3 102.0 346.7 102.5 347.3 103.2C347.9 103.9 348.9 105.0 349.7 106.0C350.5 107.0 351.2 108.2 352.0 109.2C352.8 110.2 353.1 110.7 354.3 112.2C355.5 113.7 357.7 116.4 359.0 118.0C360.3 119.6 360.8 120.6 362.0 122.0C363.2 123.4 364.9 125.5 366.0 126.4C367.1 127.3 367.7 126.9 368.7 127.2C369.7 127.5 370.8 128.0 372.0 128.5C373.2 129.0 374.3 129.7 376.0 130.2C377.7 130.6 380.0 131.7 382.0 131.4C384.0 131.1 385.7 131.3 388.0 128.3C390.3 125.2 393.7 115.9 396.0 113.0C398.3 110.1 399.5 111.3 402.0 111.0C404.5 110.7 409.5 111.0 411.0 111.0" stroke="#f52a52" stroke-width="1.1" fill="none" stroke-linejoin="round"/>
<path clip-path="url(#cd)" d="M429.8 22.5C430.6 24.7 433.2 32.0 434.9 35.9C436.6 39.8 438.2 43.1 439.9 46.0C441.6 48.9 443.4 51.3 445.0 53.0C446.6 54.7 447.7 56.0 449.4 56.0C451.1 56.0 453.2 54.5 455.0 53.0C456.8 51.5 458.7 48.6 460.2 46.7C461.7 44.8 462.9 42.5 464.0 41.5C465.1 40.5 466.0 40.2 467.0 40.5C468.0 40.8 469.0 42.5 470.0 43.5C471.0 44.5 471.7 46.7 473.0 46.3C474.3 45.9 476.3 43.5 478.0 41.3C479.7 39.1 481.5 36.0 483.3 33.3C485.1 30.6 487.5 27.1 488.7 25.3C489.9 23.5 490.2 23.0 490.5 22.5M429.8 22.5C430.5 23.9 432.5 28.1 434.0 31.0C435.5 33.9 437.3 37.3 439.0 40.0C440.7 42.7 442.4 45.2 444.0 47.0C445.6 48.8 446.7 50.8 448.8 50.5C450.9 50.2 454.1 47.4 456.4 45.4C458.7 43.4 461.2 39.5 462.7 38.5C464.2 37.5 464.1 38.9 465.2 39.7C466.2 40.5 467.7 42.4 469.0 43.5C470.3 44.6 471.5 46.6 473.0 46.3C474.5 46.0 476.3 43.6 478.0 41.5C479.7 39.4 481.5 36.4 483.3 33.8C485.1 31.2 487.4 27.7 488.7 25.8C490.0 23.9 490.6 23.1 491.0 22.5M429.8 22.5C430.3 23.4 431.6 26.0 433.0 28.0C434.4 30.0 436.5 32.6 438.0 34.5C439.5 36.4 440.4 38.1 442.0 39.5C443.6 40.9 445.5 43.1 447.5 42.9C449.5 42.7 451.7 40.1 454.0 38.5C456.3 36.9 459.4 33.5 461.4 33.4C463.4 33.3 464.6 36.3 466.0 38.0C467.4 39.7 468.3 42.1 469.5 43.5C470.7 44.9 471.6 46.5 473.0 46.3C474.4 46.0 476.3 44.0 478.0 42.0C479.7 40.0 481.5 36.9 483.3 34.3C485.1 31.7 487.3 28.3 488.7 26.3C490.1 24.3 491.0 23.1 491.5 22.5M429.8 22.5C430.7 23.3 433.1 25.8 435.0 27.5C436.9 29.2 439.1 31.5 441.0 33.0C442.9 34.5 444.5 36.8 446.3 36.6C448.1 36.4 449.9 33.7 452.0 32.0C454.1 30.3 457.1 26.9 458.9 26.4C460.7 25.9 461.4 27.2 462.7 29.0C464.0 30.8 465.3 34.8 466.5 37.2C467.7 39.6 468.6 42.0 469.7 43.5C470.8 45.0 471.6 46.5 473.0 46.3C474.4 46.1 476.3 44.2 478.0 42.3C479.7 40.4 481.5 37.4 483.3 34.8C485.1 32.2 487.2 28.9 488.7 26.8C490.1 24.8 491.4 23.2 492.0 22.5M429.8 22.5C431.0 23.2 434.7 25.6 437.0 27.0C439.3 28.4 441.9 30.4 443.7 30.9C445.4 31.4 446.2 31.6 447.5 30.2C448.8 28.8 450.7 23.8 451.3 22.5M430.0 22.5C431.2 23.1 434.8 24.8 437.0 25.8C439.2 26.8 441.2 28.3 443.0 28.5C444.8 28.7 446.8 28.0 448.0 27.0C449.2 26.0 450.1 23.2 450.5 22.5M431.0 22.5C432.2 22.9 435.8 24.4 438.0 25.0C440.2 25.6 442.2 26.7 444.0 26.3C445.8 25.9 448.2 23.1 449.0 22.5M433.0 22.5C434.2 22.8 437.7 24.5 440.0 24.5C442.3 24.5 445.8 22.8 447.0 22.5M465.2 22.5C465.8 23.0 467.7 24.9 469.0 25.5C470.3 26.1 471.7 26.5 473.0 26.4C474.3 26.3 476.0 25.6 477.0 25.0C478.0 24.4 478.7 22.9 479.0 22.5M502.0 22.5C502.4 23.3 503.6 26.0 504.4 27.6C505.2 29.2 506.0 30.8 506.8 32.2C507.6 33.6 508.4 35.0 509.2 36.3C510.0 37.5 510.8 38.7 511.6 39.8C512.4 40.9 513.2 41.8 514.0 42.7C514.8 43.5 515.6 44.2 516.4 44.8C517.2 45.3 518.1 45.8 518.8 45.8C519.5 45.8 520.2 45.3 520.9 44.8C521.5 44.2 522.2 43.5 522.9 42.7C523.6 41.8 524.3 40.9 525.0 39.8C525.7 38.7 526.3 37.5 527.0 36.3C527.7 35.0 528.4 33.6 529.1 32.2C529.8 30.8 530.5 29.2 531.1 27.6C531.8 26.0 532.9 23.3 533.2 22.5M502.0 22.5C502.4 23.2 503.6 25.3 504.4 26.7C505.1 28.0 505.9 29.3 506.7 30.5C507.5 31.6 508.3 32.8 509.1 33.8C509.9 34.8 510.6 35.8 511.4 36.7C512.2 37.5 513.0 38.3 513.8 39.0C514.6 39.7 515.4 40.3 516.1 40.8C516.9 41.2 517.8 41.6 518.5 41.6C519.2 41.6 519.9 41.2 520.6 40.8C521.3 40.3 522.0 39.7 522.7 39.0C523.4 38.3 524.1 37.5 524.8 36.7C525.5 35.8 526.2 34.8 526.9 33.8C527.6 32.8 528.3 31.6 529.0 30.5C529.7 29.3 530.4 28.0 531.1 26.7C531.8 25.3 532.9 23.2 533.2 22.5M503.0 22.5C503.4 23.0 504.5 24.6 505.2 25.6C506.0 26.6 506.7 27.6 507.4 28.5C508.2 29.3 508.9 30.2 509.6 31.0C510.4 31.7 511.1 32.5 511.9 33.1C512.6 33.8 513.3 34.4 514.1 34.9C514.8 35.4 515.5 35.8 516.3 36.2C517.0 36.5 517.8 36.8 518.5 36.8C519.2 36.8 519.9 36.5 520.6 36.2C521.3 35.8 522.0 35.4 522.6 34.9C523.3 34.4 524.0 33.8 524.7 33.1C525.4 32.5 526.1 31.7 526.8 31.0C527.5 30.2 528.2 29.3 528.9 28.5C529.5 27.6 530.2 26.6 530.9 25.6C531.6 24.6 532.7 23.0 533.0 22.5M503.5 22.5C503.9 22.9 504.9 24.1 505.6 24.8C506.4 25.6 507.1 26.3 507.8 27.0C508.5 27.6 509.2 28.2 509.9 28.8C510.6 29.4 511.4 30.0 512.1 30.4C512.8 30.9 513.5 31.4 514.2 31.8C514.9 32.1 515.6 32.5 516.4 32.7C517.1 33.0 517.8 33.2 518.5 33.2C519.2 33.2 519.8 33.0 520.5 32.7C521.2 32.5 521.8 32.1 522.5 31.8C523.2 31.4 523.8 30.9 524.5 30.4C525.2 30.0 525.8 29.4 526.5 28.8C527.2 28.2 527.8 27.6 528.5 27.0C529.2 26.3 529.8 25.6 530.5 24.8C531.2 24.1 532.2 22.9 532.5 22.5M504.0 22.5C504.3 22.8 505.4 23.8 506.1 24.4C506.8 25.1 507.5 25.7 508.1 26.2C508.8 26.8 509.5 27.3 510.2 27.8C510.9 28.2 511.6 28.7 512.3 29.1C513.0 29.5 513.7 29.9 514.4 30.2C515.0 30.5 515.7 30.8 516.4 31.0C517.1 31.2 517.8 31.4 518.5 31.4C519.2 31.4 519.8 31.2 520.4 31.0C521.1 30.8 521.7 30.5 522.4 30.2C523.0 29.9 523.6 29.5 524.3 29.1C524.9 28.7 525.6 28.2 526.2 27.8C526.9 27.3 527.5 26.8 528.1 26.2C528.8 25.7 529.4 25.1 530.1 24.4C530.7 23.8 531.7 22.8 532.0 22.5M506.0 22.5C506.3 22.7 507.3 23.5 508.0 23.9C508.7 24.4 509.3 24.8 510.0 25.2C510.7 25.6 511.3 26.0 512.0 26.3C512.7 26.7 513.3 27.0 514.0 27.3C514.7 27.6 515.3 27.9 516.0 28.1C516.7 28.4 517.3 28.6 518.0 28.7C518.7 28.9 519.4 29.0 520.0 29.0C520.6 29.0 521.1 28.9 521.7 28.7C522.3 28.6 522.9 28.4 523.4 28.1C524.0 27.9 524.6 27.6 525.1 27.3C525.7 27.0 526.3 26.7 526.9 26.3C527.4 26.0 528.0 25.6 528.6 25.2C529.1 24.8 529.7 24.4 530.3 23.9C530.9 23.5 531.7 22.7 532.0 22.5M510.0 22.5C510.2 22.6 511.0 23.1 511.4 23.4C511.9 23.7 512.4 24.0 512.9 24.2C513.3 24.5 513.8 24.7 514.3 24.9C514.8 25.1 515.2 25.4 515.7 25.5C516.2 25.7 516.7 25.9 517.1 26.0C517.6 26.2 518.1 26.3 518.6 26.4C519.0 26.5 519.5 26.6 520.0 26.6C520.5 26.6 521.0 26.5 521.4 26.4C521.9 26.3 522.4 26.2 522.9 26.0C523.3 25.9 523.8 25.7 524.3 25.5C524.8 25.4 525.2 25.1 525.7 24.9C526.2 24.7 526.7 24.5 527.1 24.2C527.6 24.0 528.1 23.7 528.6 23.4C529.0 23.1 529.8 22.6 530.0 22.5M424.0 134.5C424.4 133.9 425.6 131.8 426.4 130.7C427.2 129.6 428.0 128.6 428.8 127.8C429.6 126.9 430.4 126.2 431.2 125.7C432.0 125.1 432.8 124.7 433.6 124.4C434.4 124.1 435.2 124.0 436.0 124.0C436.8 124.0 437.6 124.1 438.4 124.4C439.2 124.7 440.0 125.1 440.8 125.7C441.6 126.2 442.4 126.9 443.2 127.8C444.0 128.6 444.8 129.6 445.6 130.7C446.4 131.8 447.6 133.9 448.0 134.5M430.0 134.5C430.4 134.2 431.8 133.3 432.7 132.9C433.6 132.5 434.4 132.1 435.3 131.9C436.2 131.7 437.2 131.6 438.0 131.6C438.8 131.6 439.6 131.7 440.3 131.9C441.1 132.1 441.9 132.5 442.7 132.9C443.4 133.3 444.6 134.2 445.0 134.5M519.5 134.5C519.8 133.9 520.8 132.2 521.5 131.2C522.2 130.2 522.8 129.3 523.5 128.6C524.2 127.9 524.8 127.3 525.5 126.8C526.2 126.3 526.8 125.9 527.5 125.7C528.2 125.4 528.8 125.3 529.5 125.3C530.2 125.3 530.8 125.4 531.5 125.7C532.2 125.9 532.8 126.3 533.5 126.8C534.2 127.3 534.8 127.9 535.5 128.6C536.2 129.3 536.8 130.2 537.5 131.2C538.2 132.2 539.2 133.9 539.5 134.5M494.0 134.5C494.3 134.1 495.3 132.7 496.0 132.0C496.7 131.3 497.3 130.8 498.0 130.5C498.7 130.2 499.3 130.0 500.0 130.0C500.7 130.0 501.3 130.2 502.0 130.5C502.7 130.8 503.3 131.3 504.0 132.0C504.7 132.7 505.7 134.1 506.0 134.5M498.0 134.5C498.4 134.3 499.6 133.5 500.3 133.1C501.1 132.7 501.9 132.5 502.7 132.3C503.4 132.1 504.2 132.0 505.0 132.0C505.8 132.0 506.6 132.1 507.3 132.3C508.1 132.5 508.9 132.7 509.7 133.1C510.4 133.5 511.6 134.3 512.0 134.5" stroke="#f52a52" stroke-width="1.2" fill="none" stroke-linejoin="round"/>
<path clip-path="url(#cd)" d="M424.5 86.0C425.6 86.8 429.2 88.8 431.0 91.0C432.8 93.2 433.8 96.3 435.0 99.0C436.2 101.7 437.5 104.6 438.5 107.0C439.5 109.4 440.2 111.5 441.0 113.5C441.8 115.5 442.6 117.8 443.5 119.3C444.4 120.8 445.6 121.9 446.5 122.6C447.4 123.3 448.2 123.3 449.0 123.4C449.8 123.5 450.7 123.3 451.5 123.1C452.3 122.9 452.5 123.3 453.6 122.0C454.7 120.7 456.9 117.5 458.3 115.5C459.7 113.5 460.8 111.6 462.0 109.8C463.2 108.0 464.3 106.2 465.3 104.8C466.3 103.4 467.1 102.4 467.8 101.5C468.6 100.6 469.2 99.9 469.8 99.4C470.4 98.9 470.9 98.7 471.4 98.5C471.9 98.3 472.4 98.1 472.9 98.1C473.4 98.1 473.9 98.3 474.4 98.5C474.9 98.7 475.4 98.9 476.0 99.4C476.6 99.9 477.2 100.7 478.0 101.5C478.8 102.3 479.7 103.5 480.5 104.5C481.3 105.5 481.8 106.3 483.0 107.8C484.2 109.3 486.7 111.9 488.0 113.5C489.3 115.1 489.9 115.9 491.0 117.5C492.1 119.1 493.8 121.8 494.8 123.0C495.9 124.2 496.2 124.0 497.3 124.4C498.4 124.8 499.9 125.0 501.3 125.6C502.7 126.2 504.3 127.5 505.6 128.2C506.9 128.9 507.9 129.7 509.1 129.9C510.3 130.1 511.3 130.3 512.6 129.6C513.9 128.9 515.2 127.9 516.9 125.8C518.6 123.7 521.0 121.3 523.0 117.0C525.0 112.7 527.0 104.8 529.0 100.0C531.0 95.2 533.2 90.4 535.0 88.0C536.8 85.6 539.2 86.0 540.0 85.6M424.5 91.6C425.6 92.2 429.2 93.3 431.0 95.0C432.8 96.7 434.1 99.2 435.5 102.0C436.9 104.8 438.3 108.7 439.6 111.5C440.9 114.3 442.2 116.8 443.3 118.6C444.4 120.4 445.6 121.8 446.5 122.6C447.4 123.4 448.2 123.3 449.0 123.4C449.8 123.5 450.7 123.5 451.5 123.4C452.3 123.2 452.5 123.7 453.6 122.5C454.7 121.4 456.9 118.4 458.3 116.5C459.7 114.7 460.8 113.0 462.0 111.2C463.2 109.5 464.3 107.6 465.3 106.2C466.3 104.9 467.1 103.8 467.8 103.0C468.6 102.1 469.2 101.4 469.8 100.9C470.4 100.4 470.9 100.2 471.4 100.0C471.9 99.7 472.4 99.5 472.9 99.5C473.4 99.5 473.9 99.7 474.4 100.0C474.9 100.2 475.4 100.4 476.0 100.9C476.6 101.4 477.2 102.1 478.0 103.0C478.8 103.8 479.7 104.9 480.5 106.0C481.3 107.0 481.8 107.8 483.0 109.2C484.2 110.8 486.7 113.3 488.0 115.0C489.3 116.6 489.9 117.4 491.0 119.0C492.1 120.5 493.8 123.3 494.8 124.5C495.9 125.6 496.2 125.4 497.3 125.9C498.4 126.3 499.9 126.4 501.3 127.0C502.7 127.5 504.3 128.6 505.6 129.2C506.9 129.9 507.9 130.5 509.1 130.7C510.3 130.8 511.3 130.9 512.6 130.2C513.9 129.5 515.2 128.3 516.9 126.4C518.6 124.4 521.3 121.7 523.0 118.5C524.7 115.3 525.7 110.8 527.0 107.0C528.3 103.2 528.8 98.6 531.0 96.0C533.2 93.4 538.5 92.3 540.0 91.6M424.5 100.4C425.6 100.7 429.4 101.4 431.0 102.0C432.6 102.6 432.7 102.6 434.0 104.0C435.3 105.4 437.4 108.4 438.7 110.5C440.0 112.6 441.1 114.8 442.0 116.5C442.9 118.2 443.6 119.5 444.3 120.5C445.1 121.5 445.7 122.1 446.5 122.6C447.3 123.1 448.2 123.2 449.0 123.4C449.8 123.6 450.7 123.7 451.5 123.7C452.3 123.6 452.5 124.0 453.6 123.0C454.7 122.0 456.9 119.3 458.3 117.6C459.7 115.9 460.8 114.3 462.0 112.7C463.2 111.1 464.3 109.1 465.3 107.7C466.3 106.3 467.1 105.3 467.8 104.4C468.6 103.5 469.2 102.8 469.8 102.3C470.4 101.8 470.9 101.6 471.4 101.4C471.9 101.2 472.4 101.0 472.9 101.0C473.4 101.0 473.9 101.2 474.4 101.4C474.9 101.6 475.4 101.8 476.0 102.3C476.6 102.8 477.2 103.6 478.0 104.4C478.8 105.2 479.7 106.4 480.5 107.4C481.3 108.5 481.8 109.2 483.0 110.7C484.2 112.2 486.7 114.8 488.0 116.4C489.3 118.0 489.9 118.8 491.0 120.4C492.1 122.0 493.8 124.8 494.8 125.9C495.9 127.1 496.2 126.9 497.3 127.3C498.4 127.7 499.9 127.8 501.3 128.3C502.7 128.8 504.3 129.8 505.6 130.3C506.9 130.8 507.9 131.4 509.1 131.5C510.3 131.6 511.3 131.5 512.6 130.8C513.9 130.0 515.2 128.8 516.9 127.0C518.6 125.2 521.0 123.8 523.0 120.0C525.0 116.2 526.2 107.3 529.0 104.0C531.8 100.7 538.2 101.0 540.0 100.4M424.5 112.0C425.6 112.1 429.4 112.2 431.0 112.4C432.6 112.6 432.7 112.5 434.0 113.0C435.3 113.5 437.1 114.3 438.7 115.4C440.2 116.5 442.2 118.6 443.3 119.6C444.4 120.6 445.0 121.0 445.5 121.5C446.0 122.0 445.9 122.3 446.5 122.6C447.1 122.9 448.2 123.2 449.0 123.4C449.8 123.6 450.7 123.9 451.5 123.9C452.3 124.0 452.5 124.4 453.6 123.5C454.7 122.7 456.9 120.2 458.3 118.6C459.7 117.0 460.8 115.7 462.0 114.1C463.2 112.6 464.3 110.5 465.3 109.1C466.3 107.8 467.1 106.8 467.8 105.8C468.6 104.9 469.2 104.2 469.8 103.8C470.4 103.2 470.9 103.1 471.4 102.8C471.9 102.6 472.4 102.4 472.9 102.4C473.4 102.4 473.9 102.6 474.4 102.8C474.9 103.1 475.4 103.2 476.0 103.8C476.6 104.2 477.2 105.0 478.0 105.8C478.8 106.7 479.7 107.8 480.5 108.8C481.3 109.9 481.8 110.6 483.0 112.1C484.2 113.6 486.7 116.2 488.0 117.8C489.3 119.5 489.9 120.3 491.0 121.8C492.1 123.4 493.8 126.2 494.8 127.3C495.9 128.5 496.2 128.4 497.3 128.8C498.4 129.1 499.9 129.2 501.3 129.7C502.7 130.1 504.3 130.9 505.6 131.3C506.9 131.8 507.9 132.3 509.1 132.3C510.3 132.3 511.3 132.1 512.6 131.3C513.9 130.6 514.8 130.4 516.9 127.5C519.0 124.6 522.5 116.6 525.0 114.0C527.5 111.4 529.5 112.5 532.0 112.2C534.5 111.9 538.7 112.0 540.0 112.0" stroke="#f52a52" stroke-width="1.1" fill="none" stroke-linejoin="round"/>
<path clip-path="url(#ce)" d="M38.5 178.6C39.2 178.9 41.5 179.2 42.8 180.3C44.1 181.4 45.1 183.4 46.3 185.0C47.5 186.6 48.4 187.9 49.8 189.7C51.2 191.4 52.9 193.6 54.5 195.5C56.1 197.4 57.8 200.1 59.2 201.3C60.6 202.6 61.4 203.2 62.7 203.0C64.0 202.8 66.0 201.6 67.3 200.2C68.6 198.8 69.8 195.9 70.8 194.3C71.8 192.7 72.7 191.2 73.5 190.5C74.3 189.8 74.6 189.7 75.5 190.3C76.4 190.9 77.9 192.7 79.0 194.3C80.1 195.9 81.1 198.4 82.0 200.0C82.9 201.6 83.7 202.9 84.6 203.8C85.5 204.7 86.3 205.6 87.2 205.6C88.1 205.6 88.9 204.9 89.8 203.8C90.7 202.7 91.4 201.3 92.5 199.0C93.6 196.7 95.2 192.3 96.5 189.7C97.8 187.1 99.0 184.9 100.0 183.3C101.0 181.7 101.7 180.9 102.5 180.2C103.3 179.5 104.0 179.0 104.9 179.0C105.9 179.0 107.2 179.8 108.2 180.3C109.2 180.8 110.0 181.5 111.1 181.8C112.2 182.1 113.2 181.6 114.7 182.3C116.2 183.0 118.4 184.6 120.3 186.0C122.2 187.4 124.0 189.4 125.9 190.7C127.8 192.0 130.0 193.3 131.5 194.0C133.0 194.7 133.6 194.8 134.7 194.8C135.8 194.8 136.9 194.6 138.0 194.0C139.1 193.4 139.9 193.1 141.3 191.5C142.8 189.9 145.1 186.2 146.7 184.3C148.3 182.4 149.4 181.2 150.7 180.3C152.0 179.4 153.9 179.2 154.5 179.0M38.5 178.6C39.6 179.3 43.3 181.0 45.2 182.7C47.1 184.3 48.2 186.7 49.8 188.5C51.3 190.3 52.8 192.6 54.5 193.8C56.2 195.1 58.5 195.7 60.3 196.0C62.0 196.3 63.4 196.2 65.0 195.5C66.6 194.8 68.3 193.0 69.7 192.0C71.1 191.0 72.2 190.0 73.2 189.7C74.2 189.4 75.0 189.4 76.0 190.0C77.0 190.6 78.0 191.9 79.0 193.5C80.0 195.1 81.1 197.8 82.0 199.5C82.9 201.2 83.7 202.6 84.6 203.6C85.5 204.6 86.3 205.6 87.2 205.6C88.1 205.6 88.9 204.6 89.8 203.6C90.7 202.6 91.6 201.1 92.5 199.8C93.4 198.5 94.1 197.2 95.0 196.0C95.9 194.8 96.5 194.2 97.7 192.6C98.9 191.0 100.8 187.8 102.3 186.2C103.8 184.6 105.5 183.6 107.0 182.9C108.5 182.2 110.4 182.0 111.1 181.8M38.5 178.6C39.4 178.8 42.3 179.2 44.0 179.8C45.7 180.4 47.0 181.1 48.7 182.0C50.5 182.9 53.0 184.4 54.5 185.0C56.0 185.6 56.6 185.8 58.0 185.6C59.4 185.4 61.2 185.1 62.7 183.8C64.2 182.5 66.0 179.8 67.3 178.0C68.6 176.2 70.2 173.8 70.8 173.0M41.7 173.0C42.5 173.8 44.8 176.6 46.3 178.0C47.8 179.4 49.2 180.7 51.0 181.5C52.8 182.3 55.0 183.0 56.8 182.7C58.5 182.4 60.1 181.4 61.5 179.8C62.9 178.2 64.4 174.1 65.0 173.0M44.0 173.0C44.8 173.4 47.0 175.0 48.7 175.7C50.5 176.4 52.8 177.4 54.5 177.4C56.2 177.4 57.8 176.4 59.2 175.7C60.6 175.0 62.1 173.4 62.7 173.0M118.4 173.0C119.2 174.1 121.5 177.8 123.1 179.5C124.7 181.2 126.1 182.3 127.8 183.2C129.5 184.0 131.6 184.5 133.4 184.6C135.2 184.7 136.7 184.3 138.7 183.5C140.7 182.7 143.4 180.6 145.3 179.7C147.2 178.8 148.5 177.9 150.0 177.8C151.5 177.7 153.8 178.8 154.5 179.0M134.7 173.0C135.6 173.8 138.4 177.1 140.0 177.7C141.6 178.2 142.7 177.1 144.0 176.3C145.3 175.5 147.3 173.6 148.0 173.0M38.5 254.0C39.1 254.1 40.8 254.0 42.3 254.6C43.8 255.2 46.1 256.5 47.7 257.7C49.3 258.9 50.4 260.1 51.7 261.7C53.0 263.2 54.4 265.4 55.7 267.0C57.0 268.6 58.3 270.0 59.7 271.0C61.1 272.0 62.8 272.9 64.3 273.0C65.8 273.1 67.5 272.5 69.0 271.7C70.5 270.9 71.7 270.0 73.0 268.3C74.3 266.6 75.6 264.2 77.0 261.7C78.4 259.1 80.4 255.1 81.6 253.0C82.8 250.9 83.3 250.0 84.2 249.1C85.1 248.2 86.2 247.5 87.2 247.5C88.2 247.5 89.4 248.4 90.2 249.1C91.0 249.8 90.7 249.7 92.3 251.5C93.9 253.3 97.4 257.2 100.0 260.0C102.6 262.8 105.8 266.0 107.7 268.4C109.6 270.8 110.0 273.1 111.3 274.5C112.6 275.9 114.0 275.6 115.3 276.5C116.6 277.4 117.8 279.0 119.3 280.2C120.8 281.4 122.6 283.4 124.3 283.5C126.0 283.6 127.6 282.8 129.3 281.0C131.0 279.2 132.6 275.5 134.3 272.7C136.0 269.9 137.6 266.8 139.3 264.3C141.0 261.8 142.6 259.4 144.3 257.7C146.0 256.0 147.6 254.9 149.3 254.3C151.0 253.7 153.6 254.1 154.5 254.0M38.5 254.0C39.1 254.1 40.8 253.9 42.3 254.6C43.8 255.2 46.1 256.6 47.7 257.9C49.3 259.2 50.4 260.8 51.7 262.5C53.0 264.2 54.4 266.2 55.7 268.3C57.0 270.4 58.2 273.1 59.7 275.0C61.2 276.9 63.2 279.3 65.0 280.0C66.8 280.7 68.8 279.7 70.3 279.0C71.8 278.3 73.2 277.1 74.3 275.7C75.4 274.2 75.8 272.4 77.0 270.3C78.2 268.2 80.4 264.6 81.6 263.0C82.8 261.4 83.3 261.5 84.2 260.9C85.1 260.3 86.2 259.3 87.2 259.3C88.2 259.3 89.4 260.3 90.2 260.9C91.0 261.5 90.7 261.4 92.3 263.0C93.9 264.6 98.0 268.9 100.0 270.7C102.0 272.4 102.7 272.6 104.0 273.5C105.3 274.4 106.8 275.7 108.0 276.3C109.2 276.9 110.1 277.1 111.3 277.3C112.5 277.5 114.6 277.3 115.3 277.3" stroke="#f52a52" stroke-width="1.2" fill="none" stroke-linejoin="round"/>
<path clip-path="url(#cf)" d="M166.5 176.2C167.3 176.6 169.8 176.9 171.3 178.7C172.8 180.4 174.0 184.0 175.3 186.7C176.6 189.4 178.0 192.3 179.3 194.7C180.6 197.1 182.0 199.4 183.3 201.3C184.6 203.2 185.9 204.9 187.3 206.0C188.8 207.1 190.4 207.7 192.0 207.7C193.6 207.7 195.2 207.3 196.7 206.0C198.1 204.7 199.5 201.9 200.7 200.0C201.9 198.1 203.1 195.8 204.0 194.7C204.9 193.6 205.2 193.3 206.0 193.4C206.8 193.5 207.7 194.3 208.7 195.3C209.7 196.3 210.8 198.2 212.0 199.3C213.2 200.4 214.2 202.5 215.7 201.7C217.2 200.9 219.4 197.0 221.0 194.3C222.6 191.6 223.7 188.4 225.0 185.7C226.3 183.0 227.6 180.1 229.0 178.3C230.4 176.6 232.1 175.5 233.7 175.2C235.2 174.9 236.7 175.7 238.3 176.3C239.9 176.9 241.6 177.7 243.3 179.0C245.0 180.3 246.9 182.3 248.7 184.3C250.5 186.3 252.4 189.0 254.0 191.0C255.6 193.0 256.6 195.0 258.0 196.3C259.4 197.6 261.1 199.0 262.7 199.0C264.2 199.0 265.9 197.9 267.3 196.3C268.7 194.8 270.0 192.1 271.3 189.7C272.6 187.3 274.0 183.8 275.3 181.7C276.6 179.6 278.1 177.9 279.3 177.0C280.6 176.1 282.2 176.4 282.8 176.3M166.5 176.2C167.5 176.8 170.8 178.4 172.7 180.0C174.6 181.6 176.2 184.2 178.0 186.0C179.8 187.8 181.5 189.5 183.3 190.7C185.1 191.9 187.4 192.6 188.7 193.0C190.0 193.4 190.2 193.6 191.3 193.4C192.4 193.2 194.0 193.0 195.3 192.0C196.6 191.0 198.2 188.5 199.3 187.3C200.5 186.1 201.4 185.3 202.2 184.8C203.0 184.3 203.2 184.1 204.0 184.3C204.8 184.5 205.7 184.5 206.7 186.0C207.7 187.5 209.0 191.0 210.0 193.3C211.0 195.7 211.8 198.7 212.7 200.1C213.6 201.5 214.7 201.7 215.7 201.7C216.7 201.7 217.8 201.2 218.7 200.1C219.6 199.0 219.5 197.6 221.0 195.0C222.5 192.4 225.9 186.8 227.7 184.3C229.5 181.9 230.1 181.3 231.7 180.3C233.2 179.3 235.4 178.9 237.0 178.3C238.6 177.8 239.7 177.3 241.0 177.0C242.3 176.7 244.1 176.8 244.7 176.7M166.5 176.2C167.8 176.6 171.8 177.6 174.0 178.5C176.2 179.4 178.1 180.8 180.0 181.5C181.9 182.2 183.7 183.0 185.2 183.0C186.7 183.0 187.6 183.2 189.0 181.5C190.4 179.8 192.8 174.4 193.5 173.0M166.5 176.2C167.8 176.3 171.2 176.4 174.0 177.0C176.8 177.6 180.2 179.9 183.0 180.0C185.8 180.1 188.6 178.9 190.5 177.7C192.4 176.5 193.6 173.8 194.2 173.0M174.0 173.0C175.2 173.4 179.2 175.5 181.5 175.5C183.8 175.5 186.5 173.4 187.5 173.0M211.7 173.0C212.4 173.3 214.4 175.0 215.7 175.0C217.0 175.0 219.0 173.3 219.7 173.0M241.0 175.5C242.3 176.3 246.3 178.5 248.7 180.3C251.1 182.1 252.9 185.0 255.3 186.3C257.7 187.6 260.9 188.4 263.3 188.3C265.8 188.2 267.8 187.2 270.0 185.7C272.2 184.1 274.6 180.6 276.7 179.0C278.8 177.4 281.8 176.8 282.8 176.3M248.7 173.0C249.6 174.2 251.8 178.5 254.0 180.3C256.2 182.1 259.6 183.5 262.0 183.7C264.4 183.9 266.2 182.9 268.7 181.7C271.1 180.5 274.3 177.2 276.7 176.3C279.1 175.4 281.8 176.1 282.8 176.0M251.3 173.0C252.2 173.9 254.9 177.1 256.7 178.3C258.5 179.5 259.8 180.4 262.0 180.3C264.2 180.2 268.0 178.9 270.0 177.7C272.0 176.5 273.3 173.8 274.0 173.0M264.7 173.0C265.6 173.4 268.2 175.7 270.0 175.7C271.8 175.7 274.4 173.4 275.3 173.0M166.5 243.6C167.2 244.0 169.2 244.6 171.0 246.0C172.8 247.4 175.0 249.3 177.0 252.0C179.0 254.7 181.3 259.2 183.0 262.0C184.7 264.8 185.3 267.2 187.0 269.0C188.7 270.8 190.7 272.8 193.0 273.0C195.3 273.2 198.3 272.5 201.0 270.0C203.7 267.5 207.1 261.4 209.0 258.0C210.9 254.6 211.4 251.3 212.5 249.6C213.6 247.9 214.5 248.0 215.5 248.0C216.5 248.0 217.6 248.9 218.5 249.6C219.4 250.3 219.5 250.5 221.0 252.0C222.5 253.5 225.4 256.2 227.4 258.5C229.4 260.8 231.0 263.0 232.8 265.7C234.6 268.4 236.9 272.8 238.2 274.7C239.4 276.6 239.4 276.2 240.3 276.8C241.2 277.4 242.2 277.6 243.6 278.3C245.0 279.0 247.2 280.2 249.0 281.0C250.8 281.8 252.6 283.6 254.4 283.1C256.2 282.7 258.0 281.1 259.8 278.3C261.6 275.6 263.4 270.7 265.2 266.6C267.0 262.6 268.8 257.3 270.6 254.0C272.4 250.7 274.0 248.5 276.0 246.8C278.0 245.1 281.7 244.1 282.8 243.6M166.5 262.0C167.2 262.1 169.2 261.7 171.0 262.4C172.8 263.1 175.0 264.2 177.0 266.0C179.0 267.8 180.7 270.8 183.0 273.0C185.3 275.2 188.3 278.3 191.0 279.0C193.7 279.7 196.3 278.7 199.0 277.0C201.7 275.3 204.8 271.6 207.0 269.0C209.2 266.4 211.1 262.8 212.5 261.2C213.9 259.6 214.5 259.6 215.5 259.6C216.5 259.6 217.6 260.6 218.5 261.2C219.4 261.8 219.2 261.6 221.0 263.0C222.8 264.4 226.6 267.2 229.2 269.3C231.8 271.4 234.6 274.4 236.4 275.6C238.2 276.8 238.8 276.1 240.3 276.5C241.8 276.9 243.7 277.4 245.4 278.3C247.2 279.2 249.3 281.0 250.8 281.9C252.3 282.8 253.2 283.7 254.4 283.7C255.6 283.7 256.8 283.1 258.0 282.0C259.2 280.9 260.1 279.5 261.6 277.4C263.1 275.3 265.2 271.6 267.0 269.3C268.8 267.1 270.6 265.1 272.4 263.9C274.2 262.7 276.1 262.5 277.8 262.2C279.5 261.9 282.0 262.0 282.8 262.0M172.0 285.0C172.3 284.8 173.1 284.1 173.6 283.8C174.1 283.4 174.7 283.1 175.2 282.8C175.7 282.6 176.3 282.3 176.8 282.1C177.3 282.0 177.9 281.8 178.4 281.7C178.9 281.6 179.5 281.6 180.0 281.6C180.5 281.6 180.9 281.6 181.4 281.7C181.9 281.8 182.3 282.0 182.8 282.1C183.3 282.3 183.7 282.6 184.2 282.8C184.7 283.1 185.1 283.4 185.6 283.8C186.1 284.1 186.8 284.8 187.0 285.0M268.0 285.0C268.2 284.9 268.8 284.5 269.2 284.3C269.6 284.1 269.9 283.9 270.3 283.8C270.7 283.7 271.1 283.7 271.5 283.7C271.9 283.7 272.3 283.7 272.7 283.8C273.1 283.9 273.4 284.1 273.8 284.3C274.2 284.5 274.8 284.9 275.0 285.0" stroke="#f52a52" stroke-width="1.2" fill="none" stroke-linejoin="round"/>
<path clip-path="url(#cg)" d="M295.7 176.2C296.8 176.5 300.4 177.3 302.3 178.0C304.2 178.7 305.6 179.5 307.3 180.3C309.0 181.1 310.9 182.2 312.3 182.8C313.7 183.4 314.6 183.6 315.7 183.6C316.8 183.6 317.9 183.3 319.0 182.6C320.1 181.9 321.3 180.6 322.3 179.3C323.3 178.0 324.2 176.1 324.8 175.0C325.4 173.9 325.6 173.3 325.7 173.0M299.8 173.6C300.6 173.9 303.0 174.9 304.8 175.5C306.6 176.1 309.0 176.8 310.7 176.9C312.4 177.0 313.6 176.7 314.8 176.3C316.1 176.0 317.2 175.4 318.2 174.8C319.2 174.2 320.3 173.3 320.7 173.0" stroke="#f52a52" stroke-width="2.1" fill="none" stroke-linejoin="round"/>
<path clip-path="url(#cg)" d="M295.5 176.2C296.5 176.8 299.8 177.9 301.5 180.0C303.2 182.1 304.5 186.0 306.0 189.0C307.5 192.0 309.0 195.4 310.5 198.0C312.0 200.6 313.2 202.8 315.0 204.7C316.8 206.6 319.0 208.9 321.0 209.2C323.0 209.4 325.1 207.7 327.0 206.2C328.9 204.7 330.7 202.0 332.2 200.2C333.7 198.4 334.6 195.7 336.0 195.5C337.4 195.3 339.2 198.0 340.5 199.0C341.8 200.0 342.4 202.6 344.0 201.7C345.6 200.8 348.3 196.4 350.0 193.7C351.7 191.0 352.7 188.3 354.0 185.7C355.3 183.1 356.7 180.1 358.0 178.3C359.3 176.6 360.4 175.6 362.0 175.2C363.6 174.8 365.8 175.1 367.3 175.7C368.9 176.3 369.7 177.6 371.3 179.0C372.9 180.4 374.9 182.1 376.7 184.3C378.5 186.5 380.4 190.2 382.0 192.3C383.6 194.4 384.6 195.8 386.0 197.0C387.4 198.2 389.1 199.6 390.7 199.7C392.2 199.8 393.9 199.1 395.3 197.7C396.7 196.2 398.0 193.4 399.3 191.0C400.6 188.6 402.0 185.2 403.3 183.0C404.6 180.8 405.9 178.8 407.3 177.7C408.7 176.6 410.8 176.5 411.5 176.3M295.5 176.2C296.5 177.0 299.8 178.9 301.5 181.0C303.2 183.1 304.2 186.3 306.0 189.0C307.8 191.7 309.6 194.6 312.0 197.0C314.4 199.4 317.7 202.7 320.2 203.2C322.7 203.7 324.5 201.9 327.0 200.0C329.5 198.1 333.4 193.2 335.2 192.0C337.0 190.8 337.0 191.7 338.0 193.0C339.0 194.3 340.0 198.7 341.0 200.1C342.0 201.5 343.0 201.7 344.0 201.7C345.0 201.7 346.0 201.4 347.0 200.1C348.0 198.8 348.4 196.7 350.0 194.0C351.6 191.3 354.7 186.2 356.7 183.7C358.7 181.2 360.2 180.1 362.0 179.0C363.8 177.9 365.3 176.9 367.3 177.0C369.3 177.1 372.9 179.2 374.0 179.7M295.5 176.2C296.6 177.0 299.9 179.2 302.0 181.0C304.1 182.8 306.2 185.0 308.0 187.0C309.8 189.0 311.1 191.3 313.0 193.0C314.9 194.7 317.2 196.9 319.5 197.2C321.8 197.4 324.5 195.9 327.0 194.5C329.5 193.1 332.7 189.5 334.5 189.0C336.3 188.5 336.9 189.7 338.0 191.5C339.1 193.3 340.0 198.4 341.0 200.1C342.0 201.8 343.0 201.7 344.0 201.7C345.0 201.7 346.0 201.4 347.0 200.1C348.0 198.8 348.8 196.3 350.0 194.0C351.2 191.7 353.3 187.3 354.0 186.0M295.5 176.2C296.6 176.8 299.8 178.5 302.0 180.0C304.2 181.5 306.1 183.2 309.0 185.0C311.9 186.8 316.8 190.2 319.5 190.5C322.2 190.8 323.2 188.4 325.0 187.0C326.8 185.6 328.4 182.8 330.0 182.2C331.6 181.6 333.0 181.8 334.5 183.7C336.0 185.6 337.9 190.8 339.0 193.5C340.1 196.2 340.2 198.7 341.0 200.1C341.8 201.5 343.0 201.7 344.0 201.7C345.0 201.7 346.0 201.4 347.0 200.1C348.0 198.8 348.8 196.3 350.0 194.0C351.2 191.7 353.3 187.3 354.0 186.0M334.5 173.0C335.5 173.4 338.9 174.7 340.5 175.5C342.1 176.3 342.8 177.6 344.0 177.8C345.2 178.0 346.8 177.3 348.0 176.5C349.2 175.7 350.8 173.6 351.3 173.0M375.3 173.7C376.2 175.5 378.9 181.2 380.7 184.3C382.5 187.4 384.3 190.7 386.0 192.3C387.7 193.9 388.9 193.9 390.7 193.7C392.5 193.5 394.8 192.7 396.7 191.0C398.6 189.3 400.4 185.9 402.0 183.7C403.6 181.5 404.4 178.9 406.0 177.7C407.6 176.5 410.6 176.5 411.5 176.3M377.5 173.0C378.4 174.5 381.4 179.8 383.0 182.0C384.6 184.2 385.7 185.5 387.0 186.5C388.3 187.5 389.4 187.8 390.7 187.9C392.0 188.0 393.6 187.7 395.0 187.0C396.4 186.3 397.5 184.9 399.0 183.5C400.5 182.1 402.5 179.5 404.0 178.3C405.5 177.1 406.8 176.8 408.0 176.5C409.2 176.2 410.9 176.2 411.5 176.2M379.5 173.0C380.4 174.1 383.1 177.7 385.0 179.5C386.9 181.3 389.0 183.5 391.0 183.9C393.0 184.3 395.3 182.7 397.0 182.0C398.7 181.3 399.7 180.3 401.0 179.5C402.3 178.7 403.2 177.6 405.0 177.0C406.8 176.4 410.4 176.2 411.5 176.0M381.5 173.0C382.2 173.8 384.4 176.2 386.0 177.5C387.6 178.8 389.3 180.3 391.0 180.7C392.7 181.1 394.3 180.5 396.0 180.0C397.7 179.5 399.3 178.2 401.0 177.5C402.7 176.8 404.2 175.8 406.0 175.5C407.8 175.2 410.6 175.8 411.5 175.8M384.0 173.0C384.7 173.5 386.7 175.2 388.0 176.0C389.3 176.8 390.5 177.7 392.0 177.8C393.5 177.9 395.5 177.4 397.0 176.8C398.5 176.2 399.8 175.1 401.0 174.5C402.2 173.9 403.5 173.2 404.0 173.0M295.5 240.4C296.2 241.0 298.2 242.1 300.0 244.0C301.8 245.9 304.0 248.8 306.0 252.0C308.0 255.2 310.3 260.0 312.0 263.0C313.7 266.0 314.7 268.3 316.0 270.0C317.3 271.7 318.0 273.0 320.0 273.0C322.0 273.0 325.3 272.5 328.0 270.0C330.7 267.5 333.8 261.5 336.0 258.0C338.2 254.5 340.1 250.9 341.5 249.2C342.9 247.5 343.5 247.6 344.5 247.6C345.5 247.6 346.6 248.5 347.5 249.2C348.4 249.9 348.9 250.7 350.0 252.0C351.1 253.3 352.0 255.0 354.0 257.3C356.0 259.6 360.1 263.3 362.0 266.0C363.9 268.7 364.5 271.1 365.3 273.3C366.1 275.5 366.3 278.8 366.8 279.2C367.3 279.6 367.4 276.4 368.3 276.0C369.2 275.6 370.7 276.2 372.0 276.6C373.3 277.0 374.7 277.8 376.0 278.6C377.3 279.4 378.7 280.7 380.0 281.4C381.3 282.1 382.7 282.7 384.0 282.8C385.3 282.9 386.8 282.8 388.0 282.2C389.2 281.6 390.0 280.9 391.0 279.5C392.0 278.1 393.1 275.3 394.0 273.5C394.9 271.7 395.6 270.9 396.5 268.5C397.4 266.1 398.3 262.2 399.3 259.3C400.3 256.4 401.6 253.5 402.7 251.0C403.8 248.5 404.9 246.0 406.0 244.3C407.1 242.6 408.4 241.7 409.3 241.0C410.2 240.3 411.1 240.3 411.5 240.2M295.5 250.0C296.2 250.3 298.2 250.7 300.0 252.0C301.8 253.3 304.0 255.5 306.0 258.0C308.0 260.5 310.3 264.8 312.0 267.0C313.7 269.2 314.7 270.4 316.0 271.5C317.3 272.6 318.0 273.5 320.0 273.4C322.0 273.3 325.3 273.1 328.0 270.7C330.7 268.2 333.8 262.1 336.0 258.7C338.2 255.2 340.1 251.7 341.5 250.0C342.9 248.3 343.5 248.4 344.5 248.4C345.5 248.4 346.6 249.3 347.5 250.0C348.4 250.7 348.9 251.5 350.0 252.8C351.1 254.2 352.0 255.8 354.0 258.1C356.0 260.4 360.1 264.2 362.0 266.8C363.9 269.4 364.8 272.6 365.3 273.8M295.5 264.4C296.6 264.5 299.9 264.2 302.0 265.0C304.1 265.8 306.0 267.3 308.0 269.0C310.0 270.7 312.0 273.3 314.0 275.0C316.0 276.7 317.7 278.7 320.0 279.0C322.3 279.3 325.3 278.7 328.0 277.0C330.7 275.3 333.8 271.7 336.0 269.0C338.2 266.3 340.1 262.3 341.5 260.6C342.9 258.9 343.5 259.0 344.5 259.0C345.5 259.0 346.6 259.9 347.5 260.6C348.4 261.3 348.9 262.0 350.0 263.0C351.1 264.0 351.8 264.9 354.0 266.7C356.2 268.5 360.8 272.2 363.0 274.0C365.2 275.8 366.1 276.7 367.0 277.3C367.9 277.9 368.1 277.6 368.3 277.6M299.0 285.0C299.3 284.6 300.2 283.4 300.8 282.7C301.4 282.0 302.0 281.4 302.6 280.9C303.2 280.4 303.8 280.0 304.4 279.6C305.0 279.3 305.6 279.0 306.2 278.9C306.8 278.7 307.4 278.6 308.0 278.6C308.6 278.6 309.2 278.7 309.8 278.9C310.4 279.0 311.0 279.3 311.6 279.6C312.2 280.0 312.8 280.4 313.4 280.9C314.0 281.4 314.6 282.0 315.2 282.7C315.8 283.4 316.7 284.6 317.0 285.0M393.5 285.2C393.8 284.8 394.4 283.7 395.0 283.0C395.6 282.3 396.2 281.5 396.8 281.0C397.4 280.5 397.9 280.3 398.5 280.2C399.1 280.1 399.6 280.0 400.2 280.2C400.8 280.4 401.6 280.8 402.3 281.2C403.0 281.6 403.7 282.0 404.3 282.7C404.9 283.4 405.7 284.8 406.0 285.2" stroke="#f52a52" stroke-width="1.2" fill="none" stroke-linejoin="round"/>
<path clip-path="url(#cg)" d="M368.3 277.6C368.9 277.7 370.7 277.8 372.0 278.2C373.3 278.6 374.7 279.4 376.0 280.2C377.3 281.0 378.7 282.3 380.0 283.0C381.3 283.7 382.7 284.3 384.0 284.4C385.3 284.5 386.8 284.3 388.0 283.8C389.2 283.3 390.0 282.5 391.0 281.2C392.0 279.9 392.8 278.7 394.0 276.2C395.2 273.7 396.8 269.4 398.0 266.0C399.2 262.6 399.9 258.4 401.0 256.0C402.1 253.6 403.2 252.8 404.3 251.8C405.4 250.8 406.5 250.5 407.7 250.2C408.9 249.9 410.9 250.0 411.5 250.0M368.3 279.2C368.9 279.3 370.7 279.4 372.0 279.8C373.3 280.2 374.7 281.0 376.0 281.8C377.3 282.6 378.7 283.9 380.0 284.6C381.3 285.3 382.7 285.9 384.0 286.0C385.3 286.1 386.8 285.9 388.0 285.4C389.2 284.9 389.9 284.3 391.0 283.0C392.1 281.7 393.4 279.8 394.5 277.8C395.6 275.8 396.6 273.0 397.7 271.0C398.8 269.0 399.8 267.1 401.0 266.0C402.2 264.9 403.4 264.9 405.2 264.7C406.9 264.4 410.4 264.5 411.5 264.5" stroke="#f52a52" stroke-width="1.1" fill="none" stroke-linejoin="round"/>
<path clip-path="url(#ch)" d="M424.5 176.0C425.4 176.4 428.0 177.9 429.7 178.7C431.4 179.5 433.0 180.2 434.7 180.9C436.4 181.6 438.3 182.3 439.7 182.8C441.1 183.3 442.0 183.6 443.0 183.7C444.0 183.8 444.7 183.7 445.5 183.4C446.3 183.1 447.2 182.7 448.0 181.7C448.8 180.7 449.6 178.8 450.3 177.3C451.0 175.9 452.0 173.7 452.4 173.0M432.2 173.6C432.9 174.0 435.1 175.3 436.3 175.9C437.6 176.5 438.6 177.0 439.7 177.1C440.8 177.2 442.0 177.0 443.0 176.7C444.0 176.4 444.8 175.8 445.5 175.2C446.2 174.6 446.9 173.4 447.2 173.0" stroke="#f52a52" stroke-width="2.1" fill="none" stroke-linejoin="round"/>
<path clip-path="url(#ch)" d="M424.5 175.5C425.8 177.0 430.0 181.5 432.0 184.5C434.0 187.5 435.0 190.6 436.5 193.5C438.0 196.4 439.5 199.3 441.0 201.7C442.5 204.1 444.0 206.3 445.5 207.7C447.0 209.1 448.2 210.4 450.0 210.3C451.8 210.2 454.2 208.6 456.0 207.0C457.8 205.4 459.1 202.8 460.5 201.0C461.9 199.2 462.9 196.5 464.2 196.0C465.4 195.5 467.1 197.3 468.0 198.0C468.9 198.7 468.8 199.5 469.6 200.1C470.4 200.7 471.6 201.7 472.6 201.7C473.6 201.7 474.5 201.4 475.6 200.1C476.7 198.8 477.8 196.1 479.0 193.7C480.2 191.3 481.7 188.3 483.0 185.7C484.3 183.1 485.7 180.1 487.0 178.3C488.3 176.6 489.4 175.6 491.0 175.2C492.6 174.8 494.8 175.1 496.3 175.7C497.9 176.3 498.7 177.3 500.3 179.0C501.9 180.7 503.9 183.2 505.7 185.7C507.5 188.1 509.4 191.6 511.0 193.7C512.5 195.8 513.5 197.1 515.0 198.3C516.5 199.5 518.2 201.0 519.7 201.0C521.2 201.0 522.9 200.0 524.3 198.3C525.7 196.6 527.0 193.6 528.3 191.0C529.6 188.4 531.0 185.2 532.3 183.0C533.6 180.8 535.0 178.8 536.3 177.7C537.6 176.6 539.4 176.5 540.0 176.3M424.5 175.5C425.6 176.8 428.9 180.2 431.0 183.0C433.1 185.8 435.0 189.2 437.0 192.0C439.0 194.8 441.0 197.8 443.0 200.0C445.0 202.2 447.0 205.2 449.2 205.5C451.4 205.8 453.6 204.1 456.0 202.0C458.4 199.9 461.7 194.0 463.5 192.7C465.3 191.4 466.0 192.8 467.0 194.0C468.0 195.2 468.7 198.8 469.6 200.1C470.5 201.4 471.6 201.7 472.6 201.7C473.6 201.7 474.5 201.4 475.6 200.1C476.7 198.8 477.3 196.7 479.0 194.0C480.7 191.3 483.7 186.2 485.7 183.7C487.7 181.2 489.2 180.1 491.0 179.0C492.8 177.9 494.3 176.9 496.3 177.0C498.3 177.1 501.9 179.2 503.0 179.7M424.5 175.5C425.6 176.6 428.9 179.8 431.0 182.0C433.1 184.2 435.0 186.8 437.0 189.0C439.0 191.2 441.1 193.8 443.0 195.5C444.9 197.2 446.3 199.6 448.5 199.5C450.7 199.4 453.6 196.8 456.0 195.0C458.4 193.2 461.0 189.6 462.7 189.0C464.4 188.4 464.9 189.7 466.0 191.5C467.1 193.3 468.5 198.4 469.6 200.1C470.7 201.8 471.6 201.7 472.6 201.7C473.6 201.7 474.5 201.4 475.6 200.1C476.7 198.8 477.8 196.3 479.0 194.0C480.2 191.7 482.3 187.3 483.0 186.0M424.5 175.5C425.6 176.4 428.9 179.2 431.0 181.0C433.1 182.8 435.2 184.8 437.0 186.5C438.8 188.2 440.2 190.1 442.0 191.5C443.8 192.9 445.5 195.2 447.7 195.0C449.9 194.8 452.7 191.5 455.0 190.0C457.3 188.5 460.0 186.2 461.7 186.0C463.4 185.8 463.7 186.2 465.0 188.5C466.3 190.8 468.3 197.9 469.6 200.1C470.9 202.3 471.6 201.7 472.6 201.7C473.6 201.7 474.5 201.4 475.6 200.1C476.7 198.8 477.8 196.3 479.0 194.0C480.2 191.7 482.3 187.3 483.0 186.0M424.5 175.5C425.8 176.3 429.4 178.7 432.0 180.5C434.6 182.3 437.5 184.8 440.0 186.5C442.5 188.2 444.8 190.7 447.0 190.5C449.2 190.3 451.0 187.0 453.0 185.5C455.0 184.0 457.3 181.8 459.0 181.5C460.7 181.2 461.7 182.2 463.0 184.0C464.3 185.8 465.9 189.3 467.0 192.0C468.1 194.7 468.7 198.5 469.6 200.1C470.5 201.7 471.6 201.7 472.6 201.7C473.6 201.7 474.5 201.4 475.6 200.1C476.7 198.8 477.8 196.3 479.0 194.0C480.2 191.7 482.3 187.3 483.0 186.0M462.0 173.0C463.0 173.4 466.2 174.4 468.0 175.5C469.8 176.6 471.3 179.4 472.6 179.7C473.9 180.0 474.7 178.6 476.0 177.5C477.3 176.4 479.6 173.8 480.3 173.0M504.0 173.0C504.8 174.8 507.3 180.7 509.0 184.0C510.7 187.3 512.2 190.9 514.0 193.0C515.8 195.1 517.7 196.1 519.5 196.3C521.3 196.5 523.2 195.7 525.0 194.0C526.8 192.3 528.3 188.6 530.0 186.0C531.7 183.4 533.3 180.1 535.0 178.5C536.7 176.9 539.2 176.7 540.0 176.3M505.5 173.0C506.2 174.4 508.4 178.9 510.0 181.5C511.6 184.1 513.4 186.9 515.0 188.5C516.6 190.1 518.0 190.8 519.5 191.0C521.0 191.2 522.5 190.6 524.0 189.5C525.5 188.4 527.0 186.2 528.5 184.5C530.0 182.8 531.6 180.3 533.0 179.0C534.4 177.7 535.8 177.0 537.0 176.5C538.2 176.0 539.5 176.2 540.0 176.2M507.0 173.0C507.8 174.3 510.5 178.8 512.0 181.0C513.5 183.2 514.8 184.9 516.0 186.0C517.2 187.1 518.2 187.6 519.5 187.7C520.8 187.8 522.6 187.4 524.0 186.5C525.4 185.6 526.5 183.9 528.0 182.5C529.5 181.1 531.0 179.1 533.0 178.0C535.0 176.9 538.8 176.3 540.0 176.0M508.5 173.0C509.2 174.1 511.2 177.6 513.0 179.5C514.8 181.4 517.5 183.8 519.5 184.3C521.5 184.8 523.2 183.4 525.0 182.5C526.8 181.6 528.3 180.0 530.0 179.0C531.7 178.0 533.3 177.0 535.0 176.5C536.7 176.0 539.2 176.1 540.0 176.0M510.0 173.0C510.7 173.8 512.4 176.2 514.0 177.5C515.6 178.8 517.7 180.7 519.5 181.0C521.3 181.3 523.2 180.2 525.0 179.5C526.8 178.8 528.3 177.7 530.0 177.0C531.7 176.3 533.3 175.7 535.0 175.5C536.7 175.3 539.2 175.8 540.0 175.8M512.0 173.0C512.7 173.6 514.7 175.4 516.0 176.3C517.3 177.2 518.5 178.2 520.0 178.3C521.5 178.4 523.5 177.6 525.0 177.0C526.5 176.4 527.8 175.7 529.0 175.0C530.2 174.3 531.5 173.3 532.0 173.0M424.5 238.4C425.2 239.0 427.2 240.1 429.0 242.0C430.8 243.9 433.0 246.7 435.0 250.0C437.0 253.3 439.3 258.7 441.0 262.0C442.7 265.3 443.7 268.2 445.0 270.0C446.3 271.8 447.0 273.0 449.0 273.0C451.0 273.0 454.3 272.5 457.0 270.0C459.7 267.5 462.8 261.5 465.0 258.0C467.2 254.5 468.7 250.9 470.0 249.2C471.3 247.5 472.0 247.6 473.0 247.6C474.0 247.6 475.0 248.5 476.0 249.2C477.0 249.9 477.8 250.5 479.0 252.0C480.2 253.5 481.2 255.7 483.0 258.0C484.8 260.3 488.1 263.4 490.0 266.0C491.9 268.6 493.3 271.3 494.3 273.5C495.3 275.7 495.6 278.9 496.2 279.3C496.8 279.7 496.9 276.4 497.7 276.0C498.5 275.6 499.8 276.2 501.0 276.6C502.2 277.0 503.7 277.8 505.0 278.6C506.3 279.4 507.7 280.7 509.0 281.4C510.3 282.1 511.7 282.7 513.0 282.8C514.3 282.9 515.8 282.8 517.0 282.2C518.2 281.6 519.0 280.9 520.0 279.5C521.0 278.1 522.1 275.6 523.0 273.5C523.9 271.4 524.7 269.2 525.5 267.0C526.3 264.8 527.1 262.7 528.0 260.0C528.9 257.3 530.0 253.5 531.0 251.0C532.0 248.5 533.0 246.8 534.0 245.0C535.0 243.2 536.0 241.6 537.0 240.5C538.0 239.4 539.5 238.8 540.0 238.4M424.5 244.0C425.6 244.5 428.9 245.5 431.0 247.0C433.1 248.5 435.2 250.5 437.0 253.0C438.8 255.5 440.7 259.3 442.0 262.0C443.3 264.7 443.8 267.1 445.0 269.0C446.2 270.9 447.0 273.1 449.0 273.4C451.0 273.7 454.3 273.1 457.0 270.7C459.7 268.2 462.8 262.1 465.0 258.7C467.2 255.2 468.7 251.7 470.0 250.0C471.3 248.3 472.0 248.4 473.0 248.4C474.0 248.4 475.0 249.3 476.0 250.0C477.0 250.7 477.8 251.3 479.0 252.8C480.2 254.3 481.2 256.5 483.0 258.8C484.8 261.1 488.1 264.3 490.0 266.8C491.9 269.3 493.6 272.8 494.3 274.0M424.5 253.6C425.6 253.8 428.9 253.9 431.0 255.0C433.1 256.1 435.0 257.7 437.0 260.0C439.0 262.3 441.0 266.8 443.0 269.0C445.0 271.2 447.3 272.8 449.0 273.4C450.7 274.0 452.3 272.8 453.0 272.7M424.5 265.0C425.6 265.1 428.8 264.6 431.0 265.4C433.2 266.2 436.0 268.4 438.0 270.0C440.0 271.6 441.2 273.5 443.0 275.0C444.8 276.5 446.7 278.7 449.0 279.0C451.3 279.3 454.3 278.7 457.0 277.0C459.7 275.3 462.8 271.7 465.0 269.0C467.2 266.3 468.7 262.3 470.0 260.6C471.3 258.9 472.0 259.0 473.0 259.0C474.0 259.0 475.0 259.9 476.0 260.6C477.0 261.3 477.3 261.5 479.0 263.0C480.7 264.5 483.8 267.8 486.0 269.8C488.2 271.8 490.3 273.7 492.0 275.0C493.7 276.3 495.1 277.1 496.0 277.6C496.9 278.1 497.4 277.8 497.7 277.8M424.0 285.0C424.4 284.5 425.6 283.0 426.4 282.1C427.2 281.3 428.0 280.5 428.8 279.9C429.6 279.2 430.4 278.7 431.2 278.3C432.0 277.9 432.8 277.5 433.6 277.3C434.4 277.1 435.3 277.0 436.0 277.0C436.7 277.0 437.3 277.1 438.0 277.3C438.7 277.5 439.3 277.9 440.0 278.3C440.7 278.7 441.3 279.2 442.0 279.9C442.7 280.5 443.3 281.3 444.0 282.1C444.7 283.0 445.7 284.5 446.0 285.0M433.0 285.0C433.3 284.9 434.3 284.4 435.0 284.2C435.7 284.0 436.3 283.9 437.0 283.8C437.7 283.7 438.4 283.6 439.0 283.6C439.6 283.6 440.1 283.7 440.7 283.8C441.2 283.9 441.8 284.0 442.3 284.2C442.9 284.4 443.7 284.9 444.0 285.0M521.0 285.3C521.5 284.6 522.8 282.2 524.0 281.0C525.2 279.8 527.0 278.6 528.3 278.2C529.6 277.8 530.9 278.2 532.0 278.8C533.1 279.4 534.0 280.4 535.0 281.5C536.0 282.6 537.2 284.7 537.7 285.3" stroke="#f52a52" stroke-width="1.2" fill="none" stroke-linejoin="round"/>
<path clip-path="url(#ch)" d="M497.7 277.6C498.2 277.7 499.8 277.8 501.0 278.2C502.2 278.6 503.7 279.4 505.0 280.2C506.3 281.0 507.7 282.3 509.0 283.0C510.3 283.7 511.7 284.3 513.0 284.4C514.3 284.5 515.8 284.3 517.0 283.8C518.2 283.3 519.0 282.6 520.0 281.3C521.0 280.1 522.0 278.4 523.0 276.3C524.0 274.2 525.0 271.3 526.0 268.5C527.0 265.7 528.0 262.4 529.0 259.5C530.0 256.6 531.0 253.2 532.0 251.0C533.0 248.8 533.7 247.5 535.0 246.3C536.3 245.1 539.2 244.4 540.0 244.0M497.7 279.2C498.2 279.3 499.8 279.4 501.0 279.8C502.2 280.2 503.7 281.0 505.0 281.8C506.3 282.6 507.7 283.9 509.0 284.6C510.3 285.3 511.7 285.9 513.0 286.0C514.3 286.1 515.8 285.9 517.0 285.4C518.2 284.9 519.0 284.2 520.0 283.0C521.0 281.8 522.0 280.1 523.0 278.3C524.0 276.5 525.0 274.4 526.0 272.0C527.0 269.6 528.0 266.4 529.0 264.0C530.0 261.6 530.8 259.1 532.0 257.5C533.2 255.9 534.7 254.9 536.0 254.2C537.3 253.5 539.3 253.6 540.0 253.5M497.7 280.8C498.2 280.9 499.8 281.0 501.0 281.4C502.2 281.8 503.7 282.6 505.0 283.4C506.3 284.2 507.7 285.5 509.0 286.2C510.3 286.9 511.7 287.5 513.0 287.6C514.3 287.7 515.8 287.5 517.0 287.0C518.2 286.5 519.0 285.9 520.0 284.8C521.0 283.7 522.0 282.1 523.0 280.5C524.0 278.9 524.8 277.0 526.0 275.0C527.2 273.0 528.5 270.1 530.0 268.5C531.5 266.9 533.3 266.0 535.0 265.5C536.7 265.0 539.2 265.3 540.0 265.3" stroke="#f52a52" stroke-width="1.1" fill="none" stroke-linejoin="round"/>
<path d="M118.2 239.8h2.4v3.9h2.7L119.4 247.6L115.5 243.7h2.7z" fill="#000"/><path d="M118.2 268.2h2.4v-4.3h2.7L119.4 260.0L115.5 263.9h2.7z" fill="#000"/>
<text x="107" y="257.8" style="font-family:'Liberation Sans',sans-serif;font-size:12.2px;fill:#000;stroke:#000;stroke-width:0.35px">0.43</text>
<path d="M246.8 239.8h2.4v3.9h2.7L248.0 247.6L244.1 243.7h2.7z" fill="#000"/><path d="M246.8 268.2h2.4v-4.3h2.7L248.0 260.0L244.1 263.9h2.7z" fill="#000"/>
<text x="236" y="257.8" style="font-family:'Liberation Sans',sans-serif;font-size:12.2px;fill:#000;stroke:#000;stroke-width:0.35px">0.43</text>
<path d="M375.0 239.8h2.4v3.9h2.7L376.2 247.6L372.3 243.7h2.7z" fill="#000"/><path d="M375.0 268.2h2.4v-4.3h2.7L376.2 260.0L372.3 263.9h2.7z" fill="#000"/>
<text x="365" y="257.8" style="font-family:'Liberation Sans',sans-serif;font-size:12.2px;fill:#000;stroke:#000;stroke-width:0.35px">0.43</text>
<path d="M503.9 239.8h2.4v3.9h2.7L505.1 247.6L501.2 243.7h2.7z" fill="#000"/><path d="M503.9 268.2h2.4v-4.3h2.7L505.1 260.0L501.2 263.9h2.7z" fill="#000"/>
<text x="493" y="257.8" style="font-family:'Liberation Sans',sans-serif;font-size:12.2px;fill:#000;stroke:#000;stroke-width:0.35px">0.44</text>
<path d="M207.3 235.2L212.2 242.4" stroke="#333" stroke-width="1.2" stroke-dasharray="1.3 0.7" fill="none"/>
<path d="M210.4 243.4L213.6 241.1L215.5 247.4z" fill="#000"/>
</svg>
</body></html>
